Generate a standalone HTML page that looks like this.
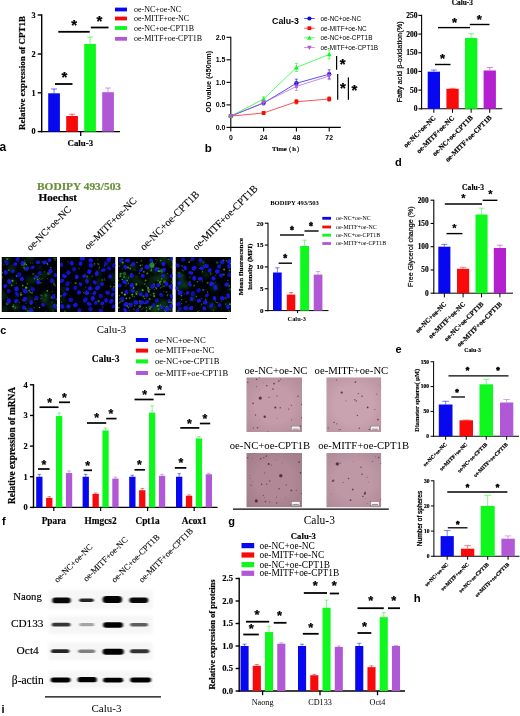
<!DOCTYPE html>
<html lang="en"><head><meta charset="utf-8"><title>Figure</title>
<style>html,body{margin:0;padding:0;background:#fff}svg{display:block}</style></head>
<body>
<svg width="520" height="716" viewBox="0 0 520 716">
<defs><filter id="b1" x="-10%" y="-10%" width="120%" height="120%"><feGaussianBlur stdDeviation="0.6"/></filter><filter id="b2" x="-20%" y="-50%" width="140%" height="200%"><feGaussianBlur stdDeviation="1.0 0.55"/></filter><filter id="b4" x="-10%" y="-10%" width="120%" height="120%"><feGaussianBlur stdDeviation="1.4"/></filter><filter id="b3" x="-10%" y="-10%" width="120%" height="120%"><feGaussianBlur stdDeviation="0.35"/></filter><radialGradient id="vg" cx="50%" cy="50%" r="75%"><stop offset="0.45" stop-color="#000" stop-opacity="0"/><stop offset="1" stop-color="#301020" stop-opacity="0.12"/></radialGradient></defs>
<rect x="0.00" y="0.00" width="520.00" height="716.00" fill="#fff"/>
<line x1="41.70" y1="14.30" x2="41.70" y2="132.30" stroke="#000" stroke-width="1.4" stroke-linecap="butt"/>
<line x1="37.70" y1="15.00" x2="41.70" y2="15.00" stroke="#000" stroke-width="1.4" stroke-linecap="butt"/>
<text x="35.70" y="17.79" font-family='"Liberation Serif", serif' font-size="8.2" font-weight="bold" text-anchor="end" fill="#000" stroke="#000" stroke-width="0.15">3</text>
<line x1="37.70" y1="54.00" x2="41.70" y2="54.00" stroke="#000" stroke-width="1.4" stroke-linecap="butt"/>
<text x="35.70" y="56.79" font-family='"Liberation Serif", serif' font-size="8.2" font-weight="bold" text-anchor="end" fill="#000" stroke="#000" stroke-width="0.15">2</text>
<line x1="37.70" y1="92.80" x2="41.70" y2="92.80" stroke="#000" stroke-width="1.4" stroke-linecap="butt"/>
<text x="35.70" y="95.59" font-family='"Liberation Serif", serif' font-size="8.2" font-weight="bold" text-anchor="end" fill="#000" stroke="#000" stroke-width="0.15">1</text>
<line x1="37.70" y1="131.60" x2="41.70" y2="131.60" stroke="#000" stroke-width="1.4" stroke-linecap="butt"/>
<text x="35.70" y="134.39" font-family='"Liberation Serif", serif' font-size="8.2" font-weight="bold" text-anchor="end" fill="#000" stroke="#000" stroke-width="0.15">0</text>
<line x1="41.00" y1="131.60" x2="120.00" y2="131.60" stroke="#000" stroke-width="1.4" stroke-linecap="butt"/>
<line x1="80.70" y1="131.60" x2="80.70" y2="135.90" stroke="#000" stroke-width="1.3" stroke-linecap="butt"/>
<rect x="48.20" y="93.30" width="11.70" height="38.30" fill="#0808f0"/>
<path d="M54.05 93.30V89.00M51.12 89.00H56.97" stroke="#0808f0" stroke-width="0.8" fill="none" opacity="0.75"/>
<rect x="66.20" y="116.00" width="11.70" height="15.60" fill="#f80a0a"/>
<path d="M72.05 116.00V114.20M69.13 114.20H74.98" stroke="#f80a0a" stroke-width="0.8" fill="none" opacity="0.75"/>
<rect x="84.20" y="44.00" width="11.70" height="87.60" fill="#0ef81e"/>
<path d="M90.05 44.00V37.00M87.13 37.00H92.98" stroke="#0ef81e" stroke-width="0.8" fill="none" opacity="0.75"/>
<rect x="102.20" y="92.20" width="11.70" height="39.40" fill="#b158d6"/>
<path d="M108.05 92.20V88.00M105.13 88.00H110.98" stroke="#b158d6" stroke-width="0.8" fill="none" opacity="0.75"/>
<line x1="55.00" y1="84.00" x2="72.50" y2="84.00" stroke="#000" stroke-width="1.8" stroke-linecap="butt"/>
<text x="64.50" y="82.39" font-family='"Liberation Sans", sans-serif' font-size="15" font-weight="bold" text-anchor="middle" fill="#000" stroke="#000" stroke-width="0.25" stroke-linejoin="round">*</text>
<line x1="58.30" y1="31.80" x2="89.70" y2="31.80" stroke="#000" stroke-width="1.8" stroke-linecap="butt"/>
<text x="74.20" y="29.89" font-family='"Liberation Sans", sans-serif' font-size="15" font-weight="bold" text-anchor="middle" fill="#000" stroke="#000" stroke-width="0.25" stroke-linejoin="round">*</text>
<line x1="90.80" y1="27.50" x2="108.50" y2="27.50" stroke="#000" stroke-width="1.8" stroke-linecap="butt"/>
<text x="99.50" y="25.69" font-family='"Liberation Sans", sans-serif' font-size="15" font-weight="bold" text-anchor="middle" fill="#000" stroke="#000" stroke-width="0.25" stroke-linejoin="round">*</text>
<text transform="translate(24.60,73.00) rotate(-90)" font-family='"Liberation Serif", serif' font-size="8.95" font-weight="bold" text-anchor="middle" fill="#000" stroke="#000" stroke-width="0.2">Relative expression of CPT1B</text>
<text x="80.30" y="146.30" font-family='"Liberation Serif", serif' font-size="8.9" font-weight="bold" text-anchor="middle" fill="#000" stroke="#000" stroke-width="0.15">Calu-3</text>
<text x="-0.50" y="151.00" font-family='"Liberation Sans", sans-serif' font-size="12" font-weight="bold" text-anchor="start" fill="#000">a</text>
<rect x="115.00" y="7.60" width="12.00" height="3.80" fill="#0808f0"/>
<text x="134.00" y="12.10" font-family='"Liberation Serif", serif' font-size="8" text-anchor="start" fill="#000">oe-NC+oe-NC</text>
<rect x="115.00" y="16.60" width="12.00" height="3.80" fill="#f80a0a"/>
<text x="134.00" y="21.10" font-family='"Liberation Serif", serif' font-size="8" text-anchor="start" fill="#000">oe-MITF+oe-NC</text>
<rect x="115.00" y="26.10" width="12.00" height="3.80" fill="#0ef81e"/>
<text x="134.00" y="30.60" font-family='"Liberation Serif", serif' font-size="8" text-anchor="start" fill="#000">oe-NC+oe-CPT1B</text>
<rect x="115.00" y="36.90" width="12.00" height="3.80" fill="#b158d6"/>
<text x="134.00" y="41.40" font-family='"Liberation Serif", serif' font-size="8" text-anchor="start" fill="#000">oe-MITF+oe-CPT1B</text>
<line x1="230.80" y1="36.75" x2="230.80" y2="127.95" stroke="#000" stroke-width="1.1" stroke-linecap="butt"/>
<line x1="226.50" y1="37.30" x2="230.80" y2="37.30" stroke="#000" stroke-width="1.1" stroke-linecap="butt"/>
<text x="225.40" y="39.68" font-family='"Liberation Sans", sans-serif' font-size="7" font-weight="bold" text-anchor="end" fill="#000">2.0</text>
<line x1="226.50" y1="59.83" x2="230.80" y2="59.83" stroke="#000" stroke-width="1.1" stroke-linecap="butt"/>
<text x="225.40" y="62.21" font-family='"Liberation Sans", sans-serif' font-size="7" font-weight="bold" text-anchor="end" fill="#000">1.5</text>
<line x1="226.50" y1="82.35" x2="230.80" y2="82.35" stroke="#000" stroke-width="1.1" stroke-linecap="butt"/>
<text x="225.40" y="84.73" font-family='"Liberation Sans", sans-serif' font-size="7" font-weight="bold" text-anchor="end" fill="#000">1.0</text>
<line x1="226.50" y1="104.88" x2="230.80" y2="104.88" stroke="#000" stroke-width="1.1" stroke-linecap="butt"/>
<text x="225.40" y="107.25" font-family='"Liberation Sans", sans-serif' font-size="7" font-weight="bold" text-anchor="end" fill="#000">0.5</text>
<line x1="226.50" y1="127.40" x2="230.80" y2="127.40" stroke="#000" stroke-width="1.1" stroke-linecap="butt"/>
<text x="225.40" y="129.78" font-family='"Liberation Sans", sans-serif' font-size="7" font-weight="bold" text-anchor="end" fill="#000">0.0</text>
<line x1="230.25" y1="127.40" x2="340.80" y2="127.40" stroke="#000" stroke-width="1.1" stroke-linecap="butt"/>
<line x1="230.80" y1="127.40" x2="230.80" y2="131.40" stroke="#000" stroke-width="1.1" stroke-linecap="butt"/>
<text x="230.80" y="140.00" font-family='"Liberation Sans", sans-serif' font-size="6.9" font-weight="bold" text-anchor="middle" fill="#000">0</text>
<line x1="263.60" y1="127.40" x2="263.60" y2="131.40" stroke="#000" stroke-width="1.1" stroke-linecap="butt"/>
<text x="263.60" y="140.00" font-family='"Liberation Sans", sans-serif' font-size="6.9" font-weight="bold" text-anchor="middle" fill="#000">24</text>
<line x1="296.40" y1="127.40" x2="296.40" y2="131.40" stroke="#000" stroke-width="1.1" stroke-linecap="butt"/>
<text x="296.40" y="140.00" font-family='"Liberation Sans", sans-serif' font-size="6.9" font-weight="bold" text-anchor="middle" fill="#000">48</text>
<line x1="329.20" y1="127.40" x2="329.20" y2="131.40" stroke="#000" stroke-width="1.1" stroke-linecap="butt"/>
<text x="329.20" y="140.00" font-family='"Liberation Sans", sans-serif' font-size="6.9" font-weight="bold" text-anchor="middle" fill="#000">72</text>
<polyline points="230.80,116.14 263.60,103.07 296.40,83.25 329.20,74.24" fill="none" stroke="#0808f0" stroke-width="0.7"/>
<line x1="230.80" y1="117.04" x2="230.80" y2="115.24" stroke="#0808f0" stroke-width="0.6" stroke-linecap="butt"/>
<line x1="229.30" y1="115.24" x2="232.30" y2="115.24" stroke="#0808f0" stroke-width="0.6" stroke-linecap="butt"/>
<line x1="229.30" y1="117.04" x2="232.30" y2="117.04" stroke="#0808f0" stroke-width="0.6" stroke-linecap="butt"/>
<circle cx="230.80" cy="116.14" r="2.15" fill="#0808f0"/>
<line x1="263.60" y1="104.88" x2="263.60" y2="101.27" stroke="#0808f0" stroke-width="0.6" stroke-linecap="butt"/>
<line x1="262.10" y1="101.27" x2="265.10" y2="101.27" stroke="#0808f0" stroke-width="0.6" stroke-linecap="butt"/>
<line x1="262.10" y1="104.88" x2="265.10" y2="104.88" stroke="#0808f0" stroke-width="0.6" stroke-linecap="butt"/>
<circle cx="263.60" cy="103.07" r="2.15" fill="#0808f0"/>
<line x1="296.40" y1="87.31" x2="296.40" y2="79.20" stroke="#0808f0" stroke-width="0.6" stroke-linecap="butt"/>
<line x1="294.90" y1="79.20" x2="297.90" y2="79.20" stroke="#0808f0" stroke-width="0.6" stroke-linecap="butt"/>
<line x1="294.90" y1="87.31" x2="297.90" y2="87.31" stroke="#0808f0" stroke-width="0.6" stroke-linecap="butt"/>
<circle cx="296.40" cy="83.25" r="2.15" fill="#0808f0"/>
<line x1="329.20" y1="78.75" x2="329.20" y2="69.74" stroke="#0808f0" stroke-width="0.6" stroke-linecap="butt"/>
<line x1="327.70" y1="69.74" x2="330.70" y2="69.74" stroke="#0808f0" stroke-width="0.6" stroke-linecap="butt"/>
<line x1="327.70" y1="78.75" x2="330.70" y2="78.75" stroke="#0808f0" stroke-width="0.6" stroke-linecap="butt"/>
<circle cx="329.20" cy="74.24" r="2.15" fill="#0808f0"/>
<polyline points="230.80,116.14 263.60,112.98 296.40,101.72 329.20,99.02" fill="none" stroke="#f80a0a" stroke-width="0.7"/>
<line x1="230.80" y1="117.04" x2="230.80" y2="115.24" stroke="#f80a0a" stroke-width="0.6" stroke-linecap="butt"/>
<line x1="229.30" y1="115.24" x2="232.30" y2="115.24" stroke="#f80a0a" stroke-width="0.6" stroke-linecap="butt"/>
<line x1="229.30" y1="117.04" x2="232.30" y2="117.04" stroke="#f80a0a" stroke-width="0.6" stroke-linecap="butt"/>
<rect x="228.87" y="114.20" width="3.87" height="3.87" fill="#f80a0a"/>
<line x1="263.60" y1="114.34" x2="263.60" y2="111.63" stroke="#f80a0a" stroke-width="0.6" stroke-linecap="butt"/>
<line x1="262.10" y1="111.63" x2="265.10" y2="111.63" stroke="#f80a0a" stroke-width="0.6" stroke-linecap="butt"/>
<line x1="262.10" y1="114.34" x2="265.10" y2="114.34" stroke="#f80a0a" stroke-width="0.6" stroke-linecap="butt"/>
<rect x="261.67" y="111.05" width="3.87" height="3.87" fill="#f80a0a"/>
<line x1="296.40" y1="103.97" x2="296.40" y2="99.47" stroke="#f80a0a" stroke-width="0.6" stroke-linecap="butt"/>
<line x1="294.90" y1="99.47" x2="297.90" y2="99.47" stroke="#f80a0a" stroke-width="0.6" stroke-linecap="butt"/>
<line x1="294.90" y1="103.97" x2="297.90" y2="103.97" stroke="#f80a0a" stroke-width="0.6" stroke-linecap="butt"/>
<rect x="294.46" y="99.79" width="3.87" height="3.87" fill="#f80a0a"/>
<line x1="329.20" y1="101.27" x2="329.20" y2="96.77" stroke="#f80a0a" stroke-width="0.6" stroke-linecap="butt"/>
<line x1="327.70" y1="96.77" x2="330.70" y2="96.77" stroke="#f80a0a" stroke-width="0.6" stroke-linecap="butt"/>
<line x1="327.70" y1="101.27" x2="330.70" y2="101.27" stroke="#f80a0a" stroke-width="0.6" stroke-linecap="butt"/>
<rect x="327.26" y="97.08" width="3.87" height="3.87" fill="#f80a0a"/>
<polyline points="230.80,116.14 263.60,99.02 296.40,67.48 329.20,54.42" fill="none" stroke="#0ef81e" stroke-width="0.7"/>
<line x1="230.80" y1="117.04" x2="230.80" y2="115.24" stroke="#0ef81e" stroke-width="0.6" stroke-linecap="butt"/>
<line x1="229.30" y1="115.24" x2="232.30" y2="115.24" stroke="#0ef81e" stroke-width="0.6" stroke-linecap="butt"/>
<line x1="229.30" y1="117.04" x2="232.30" y2="117.04" stroke="#0ef81e" stroke-width="0.6" stroke-linecap="butt"/>
<polygon points="230.80,113.77 228.44,118.07 233.17,118.07" fill="#0ef81e"/>
<line x1="263.60" y1="101.27" x2="263.60" y2="96.77" stroke="#0ef81e" stroke-width="0.6" stroke-linecap="butt"/>
<line x1="262.10" y1="96.77" x2="265.10" y2="96.77" stroke="#0ef81e" stroke-width="0.6" stroke-linecap="butt"/>
<line x1="262.10" y1="101.27" x2="265.10" y2="101.27" stroke="#0ef81e" stroke-width="0.6" stroke-linecap="butt"/>
<polygon points="263.60,96.65 261.24,100.95 265.97,100.95" fill="#0ef81e"/>
<line x1="296.40" y1="71.54" x2="296.40" y2="63.43" stroke="#0ef81e" stroke-width="0.6" stroke-linecap="butt"/>
<line x1="294.90" y1="63.43" x2="297.90" y2="63.43" stroke="#0ef81e" stroke-width="0.6" stroke-linecap="butt"/>
<line x1="294.90" y1="71.54" x2="297.90" y2="71.54" stroke="#0ef81e" stroke-width="0.6" stroke-linecap="butt"/>
<polygon points="296.40,65.12 294.03,69.42 298.76,69.42" fill="#0ef81e"/>
<line x1="329.20" y1="58.92" x2="329.20" y2="49.91" stroke="#0ef81e" stroke-width="0.6" stroke-linecap="butt"/>
<line x1="327.70" y1="49.91" x2="330.70" y2="49.91" stroke="#0ef81e" stroke-width="0.6" stroke-linecap="butt"/>
<line x1="327.70" y1="58.92" x2="330.70" y2="58.92" stroke="#0ef81e" stroke-width="0.6" stroke-linecap="butt"/>
<polygon points="329.20,52.05 326.83,56.35 331.56,56.35" fill="#0ef81e"/>
<polyline points="230.80,116.14 263.60,102.62 296.40,86.40 329.20,76.04" fill="none" stroke="#b158d6" stroke-width="0.7"/>
<line x1="230.80" y1="117.04" x2="230.80" y2="115.24" stroke="#b158d6" stroke-width="0.6" stroke-linecap="butt"/>
<line x1="229.30" y1="115.24" x2="232.30" y2="115.24" stroke="#b158d6" stroke-width="0.6" stroke-linecap="butt"/>
<line x1="229.30" y1="117.04" x2="232.30" y2="117.04" stroke="#b158d6" stroke-width="0.6" stroke-linecap="butt"/>
<polygon points="230.80,118.50 228.44,114.20 233.17,114.20" fill="#b158d6"/>
<line x1="263.60" y1="104.42" x2="263.60" y2="100.82" stroke="#b158d6" stroke-width="0.6" stroke-linecap="butt"/>
<line x1="262.10" y1="100.82" x2="265.10" y2="100.82" stroke="#b158d6" stroke-width="0.6" stroke-linecap="butt"/>
<line x1="262.10" y1="104.42" x2="265.10" y2="104.42" stroke="#b158d6" stroke-width="0.6" stroke-linecap="butt"/>
<polygon points="263.60,104.99 261.24,100.69 265.97,100.69" fill="#b158d6"/>
<line x1="296.40" y1="90.46" x2="296.40" y2="82.35" stroke="#b158d6" stroke-width="0.6" stroke-linecap="butt"/>
<line x1="294.90" y1="82.35" x2="297.90" y2="82.35" stroke="#b158d6" stroke-width="0.6" stroke-linecap="butt"/>
<line x1="294.90" y1="90.46" x2="297.90" y2="90.46" stroke="#b158d6" stroke-width="0.6" stroke-linecap="butt"/>
<polygon points="296.40,88.77 294.03,84.47 298.76,84.47" fill="#b158d6"/>
<line x1="329.20" y1="79.65" x2="329.20" y2="72.44" stroke="#b158d6" stroke-width="0.6" stroke-linecap="butt"/>
<line x1="327.70" y1="72.44" x2="330.70" y2="72.44" stroke="#b158d6" stroke-width="0.6" stroke-linecap="butt"/>
<line x1="327.70" y1="79.65" x2="330.70" y2="79.65" stroke="#b158d6" stroke-width="0.6" stroke-linecap="butt"/>
<polygon points="329.20,78.41 326.83,74.11 331.56,74.11" fill="#b158d6"/>
<line x1="336.60" y1="56.00" x2="336.60" y2="69.80" stroke="#000" stroke-width="1.2" stroke-linecap="butt"/>
<text x="342.70" y="69.09" font-family='"Liberation Sans", sans-serif' font-size="15" font-weight="bold" text-anchor="middle" fill="#000" stroke="#000" stroke-width="0.25" stroke-linejoin="round">*</text>
<line x1="337.70" y1="74.00" x2="337.70" y2="99.70" stroke="#000" stroke-width="1.2" stroke-linecap="butt"/>
<text x="343.00" y="93.39" font-family='"Liberation Sans", sans-serif' font-size="15" font-weight="bold" text-anchor="middle" fill="#000" stroke="#000" stroke-width="0.25" stroke-linejoin="round">*</text>
<line x1="348.40" y1="77.50" x2="348.40" y2="99.70" stroke="#000" stroke-width="1.2" stroke-linecap="butt"/>
<text x="354.50" y="95.49" font-family='"Liberation Sans", sans-serif' font-size="15" font-weight="bold" text-anchor="middle" fill="#000" stroke="#000" stroke-width="0.25" stroke-linejoin="round">*</text>
<text x="285.50" y="24.00" font-family='"Liberation Sans", sans-serif' font-size="8.8" font-weight="bold" text-anchor="middle" fill="#000">Calu-3</text>
<line x1="304.10" y1="18.50" x2="314.80" y2="18.50" stroke="#0808f0" stroke-width="0.7" stroke-linecap="butt"/>
<circle cx="309.40" cy="18.50" r="2.1" fill="#0808f0"/>
<text x="320.40" y="20.80" font-family='"Liberation Sans", sans-serif' font-size="6.4" text-anchor="start" fill="#000">oe-NC+oe-NC</text>
<line x1="304.10" y1="28.20" x2="314.80" y2="28.20" stroke="#f80a0a" stroke-width="0.7" stroke-linecap="butt"/>
<rect x="307.51" y="26.31" width="3.78" height="3.78" fill="#f80a0a"/>
<text x="320.40" y="30.50" font-family='"Liberation Sans", sans-serif' font-size="6.4" text-anchor="start" fill="#000">oe-MITF+oe-NC</text>
<line x1="304.10" y1="37.80" x2="314.80" y2="37.80" stroke="#0ef81e" stroke-width="0.7" stroke-linecap="butt"/>
<polygon points="309.40,35.49 307.09,39.69 311.71,39.69" fill="#0ef81e"/>
<text x="320.40" y="40.10" font-family='"Liberation Sans", sans-serif' font-size="6.4" text-anchor="start" fill="#000">oe-NC+oe-CPT1B</text>
<line x1="304.10" y1="47.60" x2="314.80" y2="47.60" stroke="#b158d6" stroke-width="0.7" stroke-linecap="butt"/>
<polygon points="309.40,49.91 307.09,45.71 311.71,45.71" fill="#b158d6"/>
<text x="320.40" y="49.90" font-family='"Liberation Sans", sans-serif' font-size="6.4" text-anchor="start" fill="#000">oe-MITF+oe-CPT1B</text>
<text transform="translate(210.90,81.70) rotate(-90)" font-family='"Liberation Sans", sans-serif' font-size="7.3" font-weight="bold" text-anchor="middle" fill="#000">OD value (450nm)</text>
<text x="272.1" y="150.6" font-family='"Liberation Serif", serif' font-size="6.7" font-weight="bold" stroke="#000" stroke-width="0.12">Time<tspan dx="2.2" font-weight="normal">(</tspan><tspan dx="1.0">h</tspan><tspan dx="0.9" font-weight="normal">)</tspan></text>
<text x="204.70" y="152.00" font-family='"Liberation Sans", sans-serif' font-size="11.5" font-weight="bold" text-anchor="start" fill="#000">b</text>
<line x1="421.60" y1="14.85" x2="421.60" y2="109.35" stroke="#000" stroke-width="1.1" stroke-linecap="butt"/>
<line x1="418.40" y1="15.40" x2="421.60" y2="15.40" stroke="#000" stroke-width="1.1" stroke-linecap="butt"/>
<text x="417.40" y="17.95" font-family='"Liberation Serif", serif' font-size="7.5" font-weight="bold" text-anchor="end" fill="#000" stroke="#000" stroke-width="0.15">250</text>
<line x1="418.40" y1="34.08" x2="421.60" y2="34.08" stroke="#000" stroke-width="1.1" stroke-linecap="butt"/>
<text x="417.40" y="36.63" font-family='"Liberation Serif", serif' font-size="7.5" font-weight="bold" text-anchor="end" fill="#000" stroke="#000" stroke-width="0.15">200</text>
<line x1="418.40" y1="52.76" x2="421.60" y2="52.76" stroke="#000" stroke-width="1.1" stroke-linecap="butt"/>
<text x="417.40" y="55.31" font-family='"Liberation Serif", serif' font-size="7.5" font-weight="bold" text-anchor="end" fill="#000" stroke="#000" stroke-width="0.15">150</text>
<line x1="418.40" y1="71.44" x2="421.60" y2="71.44" stroke="#000" stroke-width="1.1" stroke-linecap="butt"/>
<text x="417.40" y="73.99" font-family='"Liberation Serif", serif' font-size="7.5" font-weight="bold" text-anchor="end" fill="#000" stroke="#000" stroke-width="0.15">100</text>
<line x1="418.40" y1="90.12" x2="421.60" y2="90.12" stroke="#000" stroke-width="1.1" stroke-linecap="butt"/>
<text x="417.40" y="92.67" font-family='"Liberation Serif", serif' font-size="7.5" font-weight="bold" text-anchor="end" fill="#000" stroke="#000" stroke-width="0.15">50</text>
<line x1="418.40" y1="108.80" x2="421.60" y2="108.80" stroke="#000" stroke-width="1.1" stroke-linecap="butt"/>
<text x="417.40" y="111.35" font-family='"Liberation Serif", serif' font-size="7.5" font-weight="bold" text-anchor="end" fill="#000" stroke="#000" stroke-width="0.15">0</text>
<line x1="421.05" y1="108.80" x2="502.30" y2="108.80" stroke="#000" stroke-width="1.1" stroke-linecap="butt"/>
<rect x="427.70" y="71.70" width="12.30" height="37.10" fill="#0808f0"/>
<path d="M433.85 71.70V70.00M430.78 70.00H436.93" stroke="#0808f0" stroke-width="0.7" fill="none" opacity="0.75"/>
<line x1="433.85" y1="108.80" x2="433.85" y2="112.80" stroke="#000" stroke-width="1.0" stroke-linecap="butt"/>
<rect x="446.40" y="88.80" width="12.30" height="20.00" fill="#f80a0a"/>
<path d="M452.55 88.80V88.30M449.47 88.30H455.62" stroke="#f80a0a" stroke-width="0.7" fill="none" opacity="0.75"/>
<line x1="452.55" y1="108.80" x2="452.55" y2="112.80" stroke="#000" stroke-width="1.0" stroke-linecap="butt"/>
<rect x="465.00" y="38.00" width="12.30" height="70.80" fill="#0ef81e"/>
<path d="M471.15 38.00V33.80M468.07 33.80H474.22" stroke="#0ef81e" stroke-width="0.7" fill="none" opacity="0.75"/>
<line x1="471.15" y1="108.80" x2="471.15" y2="112.80" stroke="#000" stroke-width="1.0" stroke-linecap="butt"/>
<rect x="483.60" y="70.50" width="12.30" height="38.30" fill="#b41fd0"/>
<path d="M489.75 70.50V67.50M486.68 67.50H492.82" stroke="#b41fd0" stroke-width="0.7" fill="none" opacity="0.75"/>
<line x1="489.75" y1="108.80" x2="489.75" y2="112.80" stroke="#000" stroke-width="1.0" stroke-linecap="butt"/>
<line x1="435.00" y1="64.50" x2="450.50" y2="64.50" stroke="#000" stroke-width="1.4" stroke-linecap="butt"/>
<text x="442.50" y="63.39" font-family='"Liberation Sans", sans-serif' font-size="13" font-weight="bold" text-anchor="middle" fill="#000" stroke="#000" stroke-width="0.25" stroke-linejoin="round">*</text>
<line x1="438.00" y1="27.60" x2="470.00" y2="27.60" stroke="#000" stroke-width="1.4" stroke-linecap="butt"/>
<text x="454.50" y="26.89" font-family='"Liberation Sans", sans-serif' font-size="13" font-weight="bold" text-anchor="middle" fill="#000" stroke="#000" stroke-width="0.25" stroke-linejoin="round">*</text>
<line x1="469.80" y1="24.50" x2="489.50" y2="24.50" stroke="#000" stroke-width="1.4" stroke-linecap="butt"/>
<text x="479.40" y="23.89" font-family='"Liberation Sans", sans-serif' font-size="13" font-weight="bold" text-anchor="middle" fill="#000" stroke="#000" stroke-width="0.25" stroke-linejoin="round">*</text>
<text x="462.40" y="5.40" font-family='"Liberation Serif", serif' font-size="7.3" font-weight="bold" text-anchor="middle" fill="#000" stroke="#000" stroke-width="0.15">Calu-3</text>
<text transform="translate(401.80,62.00) rotate(-90)" font-family='"Liberation Sans", sans-serif' font-size="7.33" text-anchor="middle" fill="#000" stroke="#000" stroke-width="0.2">Fatty acid β-oxidation(%)</text>
<text transform="translate(436.05,118.30) rotate(-45)" font-family='"Liberation Serif", serif' font-size="7.0" font-weight="bold" text-anchor="end" fill="#000" stroke="#000" stroke-width="0.2">oe-NC+oe-NC</text>
<text transform="translate(454.75,118.30) rotate(-45)" font-family='"Liberation Serif", serif' font-size="7.0" font-weight="bold" text-anchor="end" fill="#000" stroke="#000" stroke-width="0.2">oe-MITF+oe-NC</text>
<text transform="translate(473.35,118.30) rotate(-45)" font-family='"Liberation Serif", serif' font-size="7.0" font-weight="bold" text-anchor="end" fill="#000" stroke="#000" stroke-width="0.2">oe-NC+oe-CPT1B</text>
<text transform="translate(491.95,118.30) rotate(-45)" font-family='"Liberation Serif", serif' font-size="7.0" font-weight="bold" text-anchor="end" fill="#000" stroke="#000" stroke-width="0.2">oe-MITF+oe-CPT1B</text>
<text x="395.00" y="165.50" font-family='"Liberation Sans", sans-serif' font-size="11" font-weight="bold" text-anchor="start" fill="#000">d</text>
<text x="37.00" y="189.60" font-family='"Liberation Serif", serif' font-size="11.4" font-weight="bold" text-anchor="start" fill="#6b8e3a" stroke="#6b8e3a" stroke-width="0.2">BODIPY 493/503</text>
<text x="38.50" y="201.30" font-family='"Liberation Serif", serif' font-size="11.2" font-weight="bold" text-anchor="start" fill="#000" stroke="#000" stroke-width="0.2">Hoechst</text>
<clipPath id="cp11"><rect x="1.5" y="257" width="55.5" height="55"/></clipPath><g clip-path="url(#cp11)">
<rect x="1.50" y="257.00" width="55.50" height="55.00" fill="#010208"/>
<g filter="url(#b4)"><circle cx="52.1" cy="310.3" r="2.3" fill="#1f8a2a" opacity="0.21"/><circle cx="29.6" cy="298.7" r="3.5" fill="#1f8a2a" opacity="0.21"/><circle cx="39.6" cy="267.4" r="2.2" fill="#1f8a2a" opacity="0.21"/><circle cx="7.4" cy="259.1" r="3.7" fill="#1f8a2a" opacity="0.21"/><circle cx="30.1" cy="288.3" r="2.4" fill="#1f8a2a" opacity="0.21"/><circle cx="11.7" cy="268.2" r="4.5" fill="#1f8a2a" opacity="0.21"/><circle cx="56.5" cy="308.0" r="2.3" fill="#1f8a2a" opacity="0.21"/><circle cx="4.9" cy="309.3" r="3.4" fill="#1f8a2a" opacity="0.21"/><circle cx="43.9" cy="275.0" r="3.4" fill="#1f8a2a" opacity="0.21"/><circle cx="30.1" cy="280.7" r="3.8" fill="#1f8a2a" opacity="0.21"/><circle cx="2.2" cy="295.6" r="4.5" fill="#1f8a2a" opacity="0.21"/><circle cx="11.6" cy="282.0" r="4.2" fill="#1f8a2a" opacity="0.21"/><circle cx="24.0" cy="267.7" r="2.5" fill="#1f8a2a" opacity="0.21"/><circle cx="29.9" cy="257.8" r="4.7" fill="#1f8a2a" opacity="0.21"/><circle cx="46.0" cy="295.8" r="4.6" fill="#1f8a2a" opacity="0.21"/><circle cx="36.4" cy="279.2" r="3.8" fill="#1f8a2a" opacity="0.21"/><circle cx="29.5" cy="311.0" r="4.4" fill="#1f8a2a" opacity="0.21"/><circle cx="15.8" cy="307.1" r="4.2" fill="#1f8a2a" opacity="0.21"/><circle cx="44.7" cy="301.8" r="3.2" fill="#1f8a2a" opacity="0.21"/><circle cx="51.3" cy="305.4" r="4.1" fill="#1f8a2a" opacity="0.21"/><circle cx="44.1" cy="299.1" r="3.2" fill="#1f8a2a" opacity="0.21"/></g>
<g filter="url(#b3)"><circle cx="23.7" cy="263.6" r="2.2" fill="#35c040" opacity="0.6"/><circle cx="48.7" cy="273.5" r="1.8" fill="#35c040" opacity="0.4"/><circle cx="7.1" cy="303.8" r="1.6" fill="#35c040" opacity="0.4"/><circle cx="45.9" cy="295.5" r="1.4" fill="#35c040" opacity="0.35"/><circle cx="26.6" cy="287.8" r="1.0" fill="#4cc02e" opacity="0.67"/><circle cx="11.7" cy="285.2" r="0.8" fill="#3fb52a" opacity="0.84"/><circle cx="26.3" cy="264.8" r="0.8" fill="#3fb52a" opacity="0.89"/><circle cx="34.5" cy="278.8" r="0.7" fill="#4cc02e" opacity="0.81"/><circle cx="36.1" cy="302.7" r="0.4" fill="#4cc02e" opacity="0.45"/><circle cx="34.8" cy="299.8" r="0.6" fill="#4cc02e" opacity="0.74"/><circle cx="30.3" cy="292.2" r="0.7" fill="#58b81e" opacity="0.77"/><circle cx="37.8" cy="279.4" r="0.8" fill="#3fb52a" opacity="0.91"/><circle cx="40.8" cy="274.3" r="0.6" fill="#3fb52a" opacity="0.58"/><circle cx="32.8" cy="262.9" r="0.5" fill="#3fb52a" opacity="0.58"/><circle cx="54.7" cy="303.6" r="0.4" fill="#3fb52a" opacity="0.54"/><circle cx="27.6" cy="310.9" r="0.7" fill="#4cc02e" opacity="0.47"/><circle cx="44.7" cy="271.8" r="0.5" fill="#58b81e" opacity="0.60"/><circle cx="43.6" cy="263.5" r="0.6" fill="#3fb52a" opacity="0.48"/><circle cx="27.3" cy="283.8" r="0.9" fill="#4cc02e" opacity="0.53"/><circle cx="56.2" cy="299.3" r="0.7" fill="#58b81e" opacity="0.63"/><circle cx="24.9" cy="268.7" r="0.6" fill="#2fa83a" opacity="0.93"/><circle cx="56.9" cy="258.1" r="0.5" fill="#3fb52a" opacity="0.95"/><circle cx="3.8" cy="265.0" r="0.7" fill="#2fa83a" opacity="0.43"/><circle cx="47.6" cy="278.2" r="0.5" fill="#4cc02e" opacity="0.54"/><circle cx="2.4" cy="277.3" r="0.8" fill="#58b81e" opacity="0.49"/><circle cx="47.7" cy="264.5" r="0.7" fill="#2fa83a" opacity="0.76"/><circle cx="51.9" cy="302.0" r="0.6" fill="#4cc02e" opacity="0.53"/><circle cx="39.6" cy="278.4" r="0.7" fill="#3fb52a" opacity="0.47"/><circle cx="7.3" cy="259.1" r="1.1" fill="#58b81e" opacity="0.55"/><circle cx="15.8" cy="302.3" r="0.8" fill="#4cc02e" opacity="0.58"/><circle cx="53.1" cy="310.7" r="0.5" fill="#3fb52a" opacity="0.68"/><circle cx="17.1" cy="307.5" r="0.5" fill="#2fa83a" opacity="0.44"/><circle cx="24.3" cy="270.7" r="0.4" fill="#4cc02e" opacity="0.57"/><circle cx="6.6" cy="264.6" r="0.7" fill="#4cc02e" opacity="0.60"/><circle cx="34.2" cy="307.8" r="0.7" fill="#2fa83a" opacity="0.61"/><circle cx="54.9" cy="258.2" r="0.8" fill="#2fa83a" opacity="0.68"/><circle cx="19.2" cy="312.0" r="0.5" fill="#3fb52a" opacity="0.71"/><circle cx="51.5" cy="297.5" r="0.9" fill="#2fa83a" opacity="0.84"/><circle cx="21.0" cy="294.7" r="1.0" fill="#58b81e" opacity="0.88"/><circle cx="53.9" cy="258.7" r="0.7" fill="#58b81e" opacity="0.44"/><circle cx="22.5" cy="257.7" r="0.5" fill="#3fb52a" opacity="0.47"/><circle cx="56.6" cy="305.4" r="0.9" fill="#58b81e" opacity="0.63"/><circle cx="25.9" cy="303.1" r="0.5" fill="#3fb52a" opacity="0.82"/><circle cx="18.7" cy="261.8" r="0.4" fill="#3fb52a" opacity="0.93"/><circle cx="29.1" cy="290.8" r="1.0" fill="#3fb52a" opacity="0.56"/><circle cx="21.9" cy="264.9" r="0.8" fill="#2fa83a" opacity="0.70"/><circle cx="38.1" cy="281.3" r="1.0" fill="#2fa83a" opacity="0.60"/><circle cx="12.5" cy="280.7" r="1.0" fill="#4cc02e" opacity="0.91"/><circle cx="22.8" cy="289.1" r="0.6" fill="#58b81e" opacity="0.50"/><circle cx="21.0" cy="306.3" r="0.4" fill="#2fa83a" opacity="0.46"/><circle cx="47.1" cy="263.2" r="0.7" fill="#58b81e" opacity="0.91"/><circle cx="22.7" cy="285.6" r="0.9" fill="#58b81e" opacity="0.80"/><circle cx="19.3" cy="302.6" r="0.6" fill="#2fa83a" opacity="0.74"/><circle cx="33.2" cy="274.0" r="1.0" fill="#4cc02e" opacity="0.44"/><circle cx="24.0" cy="267.4" r="0.9" fill="#4cc02e" opacity="0.57"/><circle cx="45.7" cy="311.1" r="0.5" fill="#2fa83a" opacity="0.48"/><circle cx="54.7" cy="294.6" r="0.5" fill="#4cc02e" opacity="0.68"/><circle cx="41.1" cy="298.5" r="0.8" fill="#4cc02e" opacity="0.45"/><circle cx="16.6" cy="276.0" r="0.9" fill="#4cc02e" opacity="0.70"/><circle cx="23.3" cy="300.6" r="1.0" fill="#58b81e" opacity="0.47"/><circle cx="8.7" cy="281.9" r="0.8" fill="#58b81e" opacity="0.90"/><circle cx="32.0" cy="292.9" r="0.8" fill="#2fa83a" opacity="0.86"/><circle cx="27.2" cy="292.8" r="0.5" fill="#3fb52a" opacity="0.80"/><circle cx="13.3" cy="306.5" r="1.1" fill="#2fa83a" opacity="0.94"/><circle cx="16.0" cy="296.5" r="0.4" fill="#3fb52a" opacity="0.69"/><circle cx="26.0" cy="287.3" r="0.9" fill="#3fb52a" opacity="0.68"/><circle cx="13.6" cy="304.7" r="0.7" fill="#2fa83a" opacity="0.45"/><circle cx="39.6" cy="307.4" r="0.7" fill="#58b81e" opacity="0.95"/><circle cx="54.0" cy="284.1" r="1.1" fill="#4cc02e" opacity="0.47"/><circle cx="25.9" cy="287.7" r="1.0" fill="#4cc02e" opacity="0.72"/><circle cx="30.5" cy="303.4" r="0.8" fill="#58b81e" opacity="0.59"/><circle cx="54.5" cy="304.9" r="0.8" fill="#4cc02e" opacity="0.59"/><circle cx="55.2" cy="285.8" r="0.8" fill="#3fb52a" opacity="0.53"/><circle cx="29.4" cy="290.3" r="0.4" fill="#58b81e" opacity="0.93"/><circle cx="31.7" cy="311.4" r="0.5" fill="#4cc02e" opacity="0.48"/><circle cx="5.2" cy="286.6" r="0.7" fill="#58b81e" opacity="0.93"/><circle cx="16.4" cy="283.0" r="0.5" fill="#58b81e" opacity="0.65"/><circle cx="30.6" cy="263.0" r="0.7" fill="#2fa83a" opacity="0.44"/><circle cx="8.7" cy="299.9" r="0.4" fill="#4cc02e" opacity="0.53"/><circle cx="2.2" cy="272.6" r="0.9" fill="#58b81e" opacity="0.56"/><circle cx="7.3" cy="297.2" r="0.5" fill="#2fa83a" opacity="0.69"/><circle cx="41.3" cy="295.6" r="1.0" fill="#58b81e" opacity="0.44"/><circle cx="47.3" cy="290.9" r="0.8" fill="#4cc02e" opacity="0.88"/><circle cx="30.9" cy="303.8" r="0.8" fill="#4cc02e" opacity="0.88"/><circle cx="52.3" cy="291.5" r="0.6" fill="#2fa83a" opacity="0.52"/><circle cx="50.9" cy="267.7" r="0.9" fill="#3fb52a" opacity="0.53"/><circle cx="8.9" cy="270.2" r="0.9" fill="#3fb52a" opacity="0.56"/><circle cx="25.6" cy="308.8" r="0.8" fill="#4cc02e" opacity="0.80"/><circle cx="23.9" cy="294.7" r="0.4" fill="#2fa83a" opacity="0.53"/><line x1="41.6" y1="260.9" x2="42.7" y2="263.0" stroke="#55cc33" stroke-width="0.7" opacity="0.48"/><line x1="21.2" y1="292.1" x2="20.6" y2="293.8" stroke="#55cc33" stroke-width="0.7" opacity="0.83"/><line x1="38.5" y1="275.6" x2="37.2" y2="277.9" stroke="#55cc33" stroke-width="0.7" opacity="0.68"/><line x1="23.1" y1="312.0" x2="21.8" y2="314.7" stroke="#55cc33" stroke-width="0.7" opacity="0.76"/><line x1="55.9" y1="258.3" x2="54.8" y2="261.1" stroke="#55cc33" stroke-width="0.7" opacity="0.57"/><line x1="23.8" y1="259.8" x2="25.5" y2="261.0" stroke="#55cc33" stroke-width="0.7" opacity="0.51"/><line x1="15.4" y1="306.8" x2="15.0" y2="309.2" stroke="#55cc33" stroke-width="0.7" opacity="0.84"/><line x1="33.0" y1="311.7" x2="31.7" y2="314.7" stroke="#55cc33" stroke-width="0.7" opacity="0.50"/><line x1="34.7" y1="298.8" x2="38.2" y2="299.3" stroke="#55cc33" stroke-width="0.7" opacity="0.54"/><line x1="27.7" y1="266.3" x2="27.7" y2="269.0" stroke="#55cc33" stroke-width="0.7" opacity="0.50"/><line x1="54.0" y1="280.1" x2="53.7" y2="282.8" stroke="#55cc33" stroke-width="0.7" opacity="0.61"/><line x1="17.4" y1="293.0" x2="17.0" y2="294.9" stroke="#55cc33" stroke-width="0.7" opacity="0.75"/><line x1="17.9" y1="257.8" x2="18.9" y2="258.7" stroke="#55cc33" stroke-width="0.7" opacity="0.53"/><line x1="43.4" y1="278.4" x2="40.5" y2="279.4" stroke="#55cc33" stroke-width="0.7" opacity="0.49"/><line x1="56.4" y1="308.9" x2="59.7" y2="309.7" stroke="#55cc33" stroke-width="0.7" opacity="0.64"/><line x1="28.0" y1="310.5" x2="29.8" y2="312.3" stroke="#55cc33" stroke-width="0.7" opacity="0.83"/><line x1="41.6" y1="282.8" x2="38.4" y2="283.0" stroke="#55cc33" stroke-width="0.7" opacity="0.70"/></g>
<g filter="url(#b1)"><ellipse cx="8.7" cy="291.1" rx="2.0" ry="2.1" transform="rotate(162 8.7 291.1)" fill="#1515ee" opacity="0.77"/><ellipse cx="26.9" cy="268.8" rx="2.4" ry="1.7" transform="rotate(134 26.9 268.8)" fill="#1515ee" opacity="0.91"/><ellipse cx="5.3" cy="286.0" rx="2.1" ry="1.8" transform="rotate(138 5.3 286.0)" fill="#1515ee" opacity="0.88"/><ellipse cx="9.2" cy="281.5" rx="2.5" ry="1.9" transform="rotate(61 9.2 281.5)" fill="#1515ee" opacity="0.99"/><ellipse cx="38.2" cy="282.1" rx="2.4" ry="1.9" transform="rotate(97 38.2 282.1)" fill="#1515ee" opacity="0.93"/><ellipse cx="16.5" cy="288.9" rx="2.5" ry="2.2" transform="rotate(74 16.5 288.9)" fill="#1515ee" opacity="0.96"/><ellipse cx="24.9" cy="299.2" rx="2.4" ry="2.2" transform="rotate(145 24.9 299.2)" fill="#1515ee" opacity="0.96"/><ellipse cx="30.9" cy="310.9" rx="2.6" ry="2.2" transform="rotate(115 30.9 310.9)" fill="#1515ee" opacity="0.88"/><ellipse cx="53.5" cy="296.9" rx="2.5" ry="2.1" transform="rotate(76 53.5 296.9)" fill="#1515ee" opacity="0.86"/><ellipse cx="15.3" cy="264.0" rx="2.0" ry="2.1" transform="rotate(178 15.3 264.0)" fill="#1515ee" opacity="0.84"/><ellipse cx="35.9" cy="277.0" rx="2.0" ry="1.8" transform="rotate(76 35.9 277.0)" fill="#1515ee" opacity="0.82"/><ellipse cx="17.0" cy="294.3" rx="2.7" ry="1.7" transform="rotate(56 17.0 294.3)" fill="#1515ee" opacity="0.78"/><ellipse cx="32.7" cy="289.4" rx="2.4" ry="2.1" transform="rotate(32 32.7 289.4)" fill="#1515ee" opacity="0.77"/><ellipse cx="36.4" cy="297.9" rx="2.3" ry="2.0" transform="rotate(164 36.4 297.9)" fill="#1515ee" opacity="0.76"/><ellipse cx="12.7" cy="271.2" rx="2.0" ry="1.8" transform="rotate(39 12.7 271.2)" fill="#1515ee" opacity="0.81"/><ellipse cx="54.9" cy="306.5" rx="2.5" ry="2.0" transform="rotate(40 54.9 306.5)" fill="#1515ee" opacity="0.80"/><ellipse cx="49.5" cy="260.1" rx="2.1" ry="1.8" transform="rotate(136 49.5 260.1)" fill="#1515ee" opacity="0.83"/><ellipse cx="5.8" cy="272.4" rx="2.3" ry="2.1" transform="rotate(86 5.8 272.4)" fill="#1515ee" opacity="0.82"/><ellipse cx="25.2" cy="291.0" rx="2.6" ry="2.2" transform="rotate(62 25.2 291.0)" fill="#1515ee" opacity="0.89"/><ellipse cx="6.4" cy="262.6" rx="2.7" ry="1.9" transform="rotate(40 6.4 262.6)" fill="#1515ee" opacity="0.76"/><ellipse cx="8.9" cy="300.9" rx="2.7" ry="2.1" transform="rotate(69 8.9 300.9)" fill="#1515ee" opacity="0.88"/><ellipse cx="16.3" cy="300.9" rx="2.3" ry="1.8" transform="rotate(178 16.3 300.9)" fill="#1515ee" opacity="0.91"/><ellipse cx="55.4" cy="275.2" rx="2.1" ry="1.7" transform="rotate(85 55.4 275.2)" fill="#1515ee" opacity="0.84"/><ellipse cx="51.8" cy="280.7" rx="2.5" ry="2.1" transform="rotate(109 51.8 280.7)" fill="#1515ee" opacity="0.79"/><ellipse cx="22.3" cy="263.1" rx="2.0" ry="1.8" transform="rotate(47 22.3 263.1)" fill="#1515ee" opacity="0.97"/><ellipse cx="37.9" cy="262.3" rx="2.3" ry="2.0" transform="rotate(179 37.9 262.3)" fill="#1515ee" opacity="0.82"/><ellipse cx="39.6" cy="273.0" rx="2.3" ry="1.7" transform="rotate(139 39.6 273.0)" fill="#1515ee" opacity="0.75"/><ellipse cx="18.8" cy="274.8" rx="2.6" ry="2.2" transform="rotate(148 18.8 274.8)" fill="#1515ee" opacity="0.77"/><ellipse cx="23.9" cy="307.5" rx="2.1" ry="2.1" transform="rotate(17 23.9 307.5)" fill="#1515ee" opacity="0.87"/><ellipse cx="50.4" cy="271.2" rx="2.3" ry="2.2" transform="rotate(106 50.4 271.2)" fill="#1515ee" opacity="0.96"/><ellipse cx="21.9" cy="279.0" rx="2.1" ry="2.1" transform="rotate(75 21.9 279.0)" fill="#1515ee" opacity="0.98"/><ellipse cx="31.4" cy="302.3" rx="2.0" ry="2.1" transform="rotate(38 31.4 302.3)" fill="#1515ee" opacity="0.89"/><ellipse cx="32.6" cy="267.4" rx="2.3" ry="1.7" transform="rotate(150 32.6 267.4)" fill="#1515ee" opacity="0.83"/><ellipse cx="43.1" cy="304.7" rx="2.1" ry="1.7" transform="rotate(55 43.1 304.7)" fill="#1515ee" opacity="0.87"/><ellipse cx="17.6" cy="259.2" rx="2.5" ry="1.9" transform="rotate(124 17.6 259.2)" fill="#1515ee" opacity="0.78"/><ellipse cx="44.7" cy="262.5" rx="2.2" ry="1.9" transform="rotate(174 44.7 262.5)" fill="#1515ee" opacity="0.96"/></g>
</g>
<clipPath id="cp12"><rect x="60" y="257" width="55.5" height="55"/></clipPath><g clip-path="url(#cp12)">
<rect x="60.00" y="257.00" width="55.50" height="55.00" fill="#010208"/>
<g filter="url(#b4)"><circle cx="63.1" cy="289.7" r="3.4" fill="#1f8a2a" opacity="0.17"/><circle cx="109.1" cy="262.3" r="2.7" fill="#1f8a2a" opacity="0.17"/><circle cx="113.5" cy="277.2" r="4.5" fill="#1f8a2a" opacity="0.17"/><circle cx="98.2" cy="273.3" r="3.5" fill="#1f8a2a" opacity="0.17"/><circle cx="68.1" cy="306.6" r="3.0" fill="#1f8a2a" opacity="0.17"/><circle cx="87.8" cy="278.4" r="3.5" fill="#1f8a2a" opacity="0.17"/><circle cx="99.2" cy="282.3" r="4.4" fill="#1f8a2a" opacity="0.17"/><circle cx="62.7" cy="299.5" r="3.2" fill="#1f8a2a" opacity="0.17"/></g>
<g filter="url(#b3)"><circle cx="98.8" cy="301.0" r="1.2" fill="#35c040" opacity="0.4"/><circle cx="86.3" cy="293.2" r="0.9" fill="#3fb52a" opacity="0.40"/><circle cx="115.3" cy="283.5" r="0.9" fill="#4cc02e" opacity="0.53"/><circle cx="91.0" cy="293.4" r="0.5" fill="#4cc02e" opacity="0.52"/><circle cx="78.9" cy="268.6" r="0.8" fill="#2fa83a" opacity="0.42"/><circle cx="97.8" cy="300.9" r="0.5" fill="#4cc02e" opacity="0.72"/><circle cx="65.0" cy="311.3" r="1.1" fill="#58b81e" opacity="0.38"/><circle cx="113.9" cy="286.7" r="1.0" fill="#3fb52a" opacity="0.57"/><circle cx="90.8" cy="284.9" r="0.5" fill="#58b81e" opacity="0.59"/><circle cx="86.5" cy="278.2" r="0.4" fill="#4cc02e" opacity="0.64"/><circle cx="114.2" cy="293.5" r="0.6" fill="#58b81e" opacity="0.49"/><circle cx="97.4" cy="263.3" r="0.6" fill="#4cc02e" opacity="0.49"/><circle cx="61.6" cy="302.2" r="0.7" fill="#4cc02e" opacity="0.55"/><circle cx="97.5" cy="259.4" r="0.5" fill="#4cc02e" opacity="0.59"/><circle cx="69.9" cy="295.3" r="0.4" fill="#2fa83a" opacity="0.45"/><circle cx="93.4" cy="296.9" r="0.8" fill="#2fa83a" opacity="0.49"/><circle cx="75.6" cy="283.2" r="1.1" fill="#4cc02e" opacity="0.54"/><circle cx="85.8" cy="287.2" r="0.5" fill="#4cc02e" opacity="0.65"/><circle cx="110.6" cy="257.4" r="0.6" fill="#2fa83a" opacity="0.66"/><circle cx="70.0" cy="300.7" r="0.8" fill="#3fb52a" opacity="0.44"/><circle cx="114.6" cy="311.9" r="0.8" fill="#2fa83a" opacity="0.35"/><circle cx="108.9" cy="293.8" r="0.6" fill="#58b81e" opacity="0.39"/><circle cx="87.2" cy="276.5" r="0.9" fill="#4cc02e" opacity="0.52"/><circle cx="84.9" cy="290.9" r="0.4" fill="#58b81e" opacity="0.47"/><circle cx="99.1" cy="268.8" r="0.6" fill="#3fb52a" opacity="0.44"/><circle cx="98.5" cy="264.2" r="1.0" fill="#4cc02e" opacity="0.51"/><circle cx="71.1" cy="282.9" r="0.4" fill="#2fa83a" opacity="0.57"/><circle cx="102.2" cy="280.0" r="0.8" fill="#4cc02e" opacity="0.71"/><circle cx="92.2" cy="276.1" r="0.7" fill="#4cc02e" opacity="0.64"/><circle cx="60.9" cy="296.1" r="1.0" fill="#3fb52a" opacity="0.67"/><circle cx="110.5" cy="286.4" r="1.0" fill="#3fb52a" opacity="0.49"/><circle cx="99.4" cy="267.4" r="0.6" fill="#58b81e" opacity="0.66"/><circle cx="94.5" cy="263.9" r="0.8" fill="#58b81e" opacity="0.63"/><circle cx="92.2" cy="260.9" r="0.6" fill="#2fa83a" opacity="0.37"/><circle cx="67.9" cy="262.0" r="0.6" fill="#58b81e" opacity="0.62"/><circle cx="80.3" cy="258.6" r="0.7" fill="#4cc02e" opacity="0.52"/><line x1="98.8" y1="300.6" x2="98.6" y2="302.8" stroke="#55cc33" stroke-width="0.7" opacity="0.39"/><line x1="65.9" y1="288.4" x2="67.6" y2="291.0" stroke="#55cc33" stroke-width="0.7" opacity="0.38"/><line x1="103.0" y1="306.3" x2="102.4" y2="307.8" stroke="#55cc33" stroke-width="0.7" opacity="0.52"/><line x1="104.4" y1="264.4" x2="104.5" y2="266.7" stroke="#55cc33" stroke-width="0.7" opacity="0.48"/><line x1="82.7" y1="291.5" x2="84.7" y2="294.0" stroke="#55cc33" stroke-width="0.7" opacity="0.61"/><line x1="93.7" y1="265.2" x2="94.6" y2="266.1" stroke="#55cc33" stroke-width="0.7" opacity="0.57"/><line x1="104.2" y1="277.8" x2="104.9" y2="280.6" stroke="#55cc33" stroke-width="0.7" opacity="0.48"/></g>
<g filter="url(#b1)"><ellipse cx="102.1" cy="284.1" rx="1.9" ry="2.0" transform="rotate(81 102.1 284.1)" fill="#1515ee" opacity="0.88"/><ellipse cx="111.3" cy="301.2" rx="2.7" ry="2.0" transform="rotate(138 111.3 301.2)" fill="#1515ee" opacity="0.89"/><ellipse cx="70.8" cy="299.8" rx="2.4" ry="2.1" transform="rotate(3 70.8 299.8)" fill="#1515ee" opacity="0.78"/><ellipse cx="105.7" cy="263.8" rx="2.3" ry="1.9" transform="rotate(100 105.7 263.8)" fill="#1515ee" opacity="0.77"/><ellipse cx="75.3" cy="305.0" rx="2.4" ry="2.1" transform="rotate(151 75.3 305.0)" fill="#1515ee" opacity="0.95"/><ellipse cx="107.5" cy="292.6" rx="2.3" ry="2.1" transform="rotate(12 107.5 292.6)" fill="#1515ee" opacity="0.79"/><ellipse cx="100.7" cy="295.9" rx="2.2" ry="2.2" transform="rotate(176 100.7 295.9)" fill="#1515ee" opacity="0.75"/><ellipse cx="113.4" cy="306.5" rx="2.0" ry="1.7" transform="rotate(137 113.4 306.5)" fill="#1515ee" opacity="0.84"/><ellipse cx="102.2" cy="303.5" rx="2.1" ry="1.9" transform="rotate(165 102.2 303.5)" fill="#1515ee" opacity="0.90"/><ellipse cx="90.7" cy="260.3" rx="2.3" ry="2.1" transform="rotate(17 90.7 260.3)" fill="#1515ee" opacity="0.93"/><ellipse cx="62.2" cy="306.3" rx="2.6" ry="2.1" transform="rotate(67 62.2 306.3)" fill="#1515ee" opacity="0.82"/><ellipse cx="80.5" cy="284.4" rx="2.2" ry="1.7" transform="rotate(59 80.5 284.4)" fill="#1515ee" opacity="0.81"/><ellipse cx="71.7" cy="263.2" rx="2.2" ry="2.2" transform="rotate(140 71.7 263.2)" fill="#1515ee" opacity="0.87"/><ellipse cx="61.3" cy="264.7" rx="2.2" ry="1.7" transform="rotate(72 61.3 264.7)" fill="#1515ee" opacity="0.79"/><ellipse cx="76.7" cy="276.9" rx="2.3" ry="1.9" transform="rotate(97 76.7 276.9)" fill="#1515ee" opacity="0.96"/><ellipse cx="108.8" cy="259.5" rx="2.5" ry="2.2" transform="rotate(138 108.8 259.5)" fill="#1515ee" opacity="0.85"/><ellipse cx="80.6" cy="263.5" rx="2.0" ry="2.2" transform="rotate(174 80.6 263.5)" fill="#1515ee" opacity="0.90"/><ellipse cx="106.1" cy="300.2" rx="2.0" ry="2.2" transform="rotate(152 106.1 300.2)" fill="#1515ee" opacity="0.86"/><ellipse cx="90.4" cy="309.0" rx="2.3" ry="2.2" transform="rotate(43 90.4 309.0)" fill="#1515ee" opacity="0.75"/><ellipse cx="110.1" cy="276.5" rx="2.1" ry="1.9" transform="rotate(101 110.1 276.5)" fill="#1515ee" opacity="0.94"/><ellipse cx="97.7" cy="287.9" rx="2.7" ry="2.2" transform="rotate(145 97.7 287.9)" fill="#1515ee" opacity="0.85"/><ellipse cx="95.8" cy="302.8" rx="2.0" ry="1.8" transform="rotate(69 95.8 302.8)" fill="#1515ee" opacity="0.83"/><ellipse cx="113.3" cy="289.4" rx="2.1" ry="1.7" transform="rotate(61 113.3 289.4)" fill="#1515ee" opacity="0.76"/><ellipse cx="94.7" cy="282.4" rx="2.2" ry="1.8" transform="rotate(35 94.7 282.4)" fill="#1515ee" opacity="0.85"/><ellipse cx="79.0" cy="292.4" rx="2.1" ry="2.1" transform="rotate(177 79.0 292.4)" fill="#1515ee" opacity="0.90"/><ellipse cx="113.8" cy="265.5" rx="1.9" ry="2.2" transform="rotate(52 113.8 265.5)" fill="#1515ee" opacity="0.76"/><ellipse cx="67.6" cy="283.7" rx="2.5" ry="2.0" transform="rotate(127 67.6 283.7)" fill="#1515ee" opacity="0.76"/><ellipse cx="68.3" cy="272.7" rx="2.2" ry="2.2" transform="rotate(66 68.3 272.7)" fill="#1515ee" opacity="0.79"/><ellipse cx="84.3" cy="276.0" rx="2.2" ry="1.7" transform="rotate(152 84.3 276.0)" fill="#1515ee" opacity="0.98"/><ellipse cx="92.8" cy="298.6" rx="2.3" ry="2.2" transform="rotate(33 92.8 298.6)" fill="#1515ee" opacity="0.91"/><ellipse cx="64.4" cy="276.1" rx="2.5" ry="1.9" transform="rotate(18 64.4 276.1)" fill="#1515ee" opacity="0.93"/><ellipse cx="75.3" cy="287.9" rx="2.1" ry="2.1" transform="rotate(165 75.3 287.9)" fill="#1515ee" opacity="0.76"/><ellipse cx="79.4" cy="310.5" rx="1.9" ry="2.0" transform="rotate(43 79.4 310.5)" fill="#1515ee" opacity="0.83"/><ellipse cx="67.4" cy="289.1" rx="1.9" ry="1.8" transform="rotate(98 67.4 289.1)" fill="#1515ee" opacity="0.91"/><ellipse cx="89.1" cy="303.9" rx="2.6" ry="1.8" transform="rotate(22 89.1 303.9)" fill="#1515ee" opacity="0.87"/><ellipse cx="103.4" cy="270.1" rx="2.6" ry="1.7" transform="rotate(160 103.4 270.1)" fill="#1515ee" opacity="0.87"/><ellipse cx="64.6" cy="294.5" rx="2.4" ry="1.9" transform="rotate(148 64.6 294.5)" fill="#1515ee" opacity="0.83"/><ellipse cx="86.9" cy="281.4" rx="2.3" ry="1.9" transform="rotate(77 86.9 281.4)" fill="#1515ee" opacity="0.81"/><ellipse cx="109.3" cy="268.4" rx="2.3" ry="1.7" transform="rotate(35 109.3 268.4)" fill="#1515ee" opacity="0.75"/><ellipse cx="86.9" cy="292.9" rx="2.3" ry="2.2" transform="rotate(31 86.9 292.9)" fill="#1515ee" opacity="0.99"/><ellipse cx="96.8" cy="273.5" rx="2.5" ry="1.8" transform="rotate(107 96.8 273.5)" fill="#1515ee" opacity="0.94"/><ellipse cx="74.1" cy="269.2" rx="2.1" ry="2.1" transform="rotate(149 74.1 269.2)" fill="#1515ee" opacity="0.76"/><ellipse cx="89.3" cy="271.6" rx="2.3" ry="2.1" transform="rotate(116 89.3 271.6)" fill="#1515ee" opacity="0.97"/><ellipse cx="85.3" cy="299.8" rx="2.7" ry="2.1" transform="rotate(119 85.3 299.8)" fill="#1515ee" opacity="0.79"/><ellipse cx="82.4" cy="258.4" rx="2.6" ry="2.2" transform="rotate(163 82.4 258.4)" fill="#1515ee" opacity="0.89"/><ellipse cx="112.5" cy="294.7" rx="2.2" ry="1.8" transform="rotate(79 112.5 294.7)" fill="#1515ee" opacity="0.79"/><ellipse cx="61.6" cy="280.9" rx="2.7" ry="2.0" transform="rotate(157 61.6 280.9)" fill="#1515ee" opacity="0.81"/><ellipse cx="90.9" cy="265.4" rx="2.4" ry="2.2" transform="rotate(74 90.9 265.4)" fill="#1515ee" opacity="0.82"/><ellipse cx="100.7" cy="310.7" rx="2.2" ry="2.2" transform="rotate(78 100.7 310.7)" fill="#1515ee" opacity="0.77"/><ellipse cx="94.5" cy="293.1" rx="2.4" ry="1.7" transform="rotate(119 94.5 293.1)" fill="#1515ee" opacity="0.88"/><ellipse cx="68.5" cy="306.4" rx="2.0" ry="2.0" transform="rotate(6 68.5 306.4)" fill="#1515ee" opacity="0.94"/><ellipse cx="90.2" cy="288.4" rx="2.3" ry="2.2" transform="rotate(5 90.2 288.4)" fill="#1515ee" opacity="0.96"/></g>
</g>
<clipPath id="cp13"><rect x="118" y="257" width="54.7" height="55"/></clipPath><g clip-path="url(#cp13)">
<rect x="118.00" y="257.00" width="54.70" height="55.00" fill="#010208"/>
<g filter="url(#b4)"><circle cx="125.6" cy="279.9" r="3.2" fill="#1f8a2a" opacity="0.22"/><circle cx="162.6" cy="274.3" r="2.8" fill="#1f8a2a" opacity="0.22"/><circle cx="155.9" cy="272.6" r="2.7" fill="#1f8a2a" opacity="0.22"/><circle cx="141.8" cy="283.5" r="2.7" fill="#1f8a2a" opacity="0.22"/><circle cx="121.6" cy="263.4" r="2.7" fill="#1f8a2a" opacity="0.22"/><circle cx="155.1" cy="310.3" r="3.0" fill="#1f8a2a" opacity="0.22"/><circle cx="131.6" cy="289.6" r="3.0" fill="#1f8a2a" opacity="0.22"/><circle cx="122.3" cy="275.0" r="3.2" fill="#1f8a2a" opacity="0.22"/><circle cx="155.6" cy="278.3" r="2.2" fill="#1f8a2a" opacity="0.22"/><circle cx="149.0" cy="284.9" r="2.8" fill="#1f8a2a" opacity="0.22"/><circle cx="160.8" cy="277.6" r="3.6" fill="#1f8a2a" opacity="0.22"/><circle cx="147.1" cy="307.0" r="2.2" fill="#1f8a2a" opacity="0.22"/><circle cx="153.9" cy="296.3" r="2.0" fill="#1f8a2a" opacity="0.22"/><circle cx="136.2" cy="280.0" r="4.6" fill="#1f8a2a" opacity="0.22"/><circle cx="158.8" cy="278.3" r="2.5" fill="#1f8a2a" opacity="0.22"/><circle cx="153.8" cy="309.5" r="4.2" fill="#1f8a2a" opacity="0.22"/><circle cx="139.8" cy="291.7" r="3.5" fill="#1f8a2a" opacity="0.22"/><circle cx="151.2" cy="268.3" r="4.0" fill="#1f8a2a" opacity="0.22"/><circle cx="152.6" cy="279.5" r="4.0" fill="#1f8a2a" opacity="0.22"/><circle cx="165.4" cy="279.2" r="2.2" fill="#1f8a2a" opacity="0.22"/><circle cx="132.8" cy="295.3" r="2.0" fill="#1f8a2a" opacity="0.22"/><circle cx="163.2" cy="302.3" r="3.5" fill="#1f8a2a" opacity="0.22"/><circle cx="133.0" cy="267.0" r="4.0" fill="#1f8a2a" opacity="0.22"/><circle cx="157.5" cy="304.8" r="4.3" fill="#1f8a2a" opacity="0.22"/><circle cx="163.0" cy="259.4" r="4.8" fill="#1f8a2a" opacity="0.22"/><circle cx="159.5" cy="310.2" r="4.3" fill="#1f8a2a" opacity="0.22"/><circle cx="165.3" cy="306.3" r="4.7" fill="#1f8a2a" opacity="0.22"/><circle cx="165.2" cy="277.1" r="3.4" fill="#1f8a2a" opacity="0.22"/><circle cx="127.7" cy="277.9" r="3.3" fill="#1f8a2a" opacity="0.22"/><circle cx="171.7" cy="262.4" r="4.8" fill="#1f8a2a" opacity="0.22"/><circle cx="170.9" cy="310.7" r="4.4" fill="#1f8a2a" opacity="0.22"/><circle cx="164.3" cy="257.5" r="2.3" fill="#1f8a2a" opacity="0.22"/></g>
<g filter="url(#b3)"><circle cx="151.9" cy="265.2" r="2.6" fill="#35c040" opacity="0.65"/><circle cx="161.8" cy="270.8" r="2.0" fill="#35c040" opacity="0.5"/><circle cx="164.5" cy="281.8" r="1.6" fill="#35c040" opacity="0.5"/><circle cx="124.6" cy="273.5" r="1.8" fill="#35c040" opacity="0.4"/><circle cx="139.9" cy="306.5" r="1.5" fill="#35c040" opacity="0.45"/><circle cx="148.1" cy="290.0" r="1.4" fill="#35c040" opacity="0.4"/><circle cx="132.2" cy="294.7" r="0.9" fill="#4cc02e" opacity="0.92"/><circle cx="153.7" cy="293.6" r="1.0" fill="#4cc02e" opacity="0.80"/><circle cx="125.1" cy="286.2" r="0.5" fill="#58b81e" opacity="0.61"/><circle cx="124.9" cy="294.6" r="1.1" fill="#4cc02e" opacity="1.00"/><circle cx="122.6" cy="300.7" r="1.0" fill="#58b81e" opacity="0.59"/><circle cx="158.7" cy="309.2" r="1.0" fill="#4cc02e" opacity="0.59"/><circle cx="144.6" cy="298.5" r="0.8" fill="#2fa83a" opacity="0.69"/><circle cx="166.6" cy="292.1" r="0.9" fill="#2fa83a" opacity="0.64"/><circle cx="155.8" cy="287.5" r="0.9" fill="#58b81e" opacity="0.52"/><circle cx="147.3" cy="273.1" r="0.5" fill="#2fa83a" opacity="0.65"/><circle cx="143.1" cy="290.3" r="0.7" fill="#58b81e" opacity="0.52"/><circle cx="148.1" cy="288.1" r="1.0" fill="#4cc02e" opacity="0.84"/><circle cx="122.0" cy="292.8" r="1.1" fill="#58b81e" opacity="0.66"/><circle cx="169.0" cy="259.4" r="0.5" fill="#58b81e" opacity="0.89"/><circle cx="153.0" cy="265.8" r="0.7" fill="#2fa83a" opacity="0.93"/><circle cx="129.1" cy="304.0" r="0.7" fill="#4cc02e" opacity="0.84"/><circle cx="167.3" cy="295.7" r="0.6" fill="#3fb52a" opacity="0.72"/><circle cx="149.8" cy="289.5" r="0.7" fill="#2fa83a" opacity="0.85"/><circle cx="128.0" cy="267.6" r="1.0" fill="#4cc02e" opacity="0.76"/><circle cx="127.2" cy="280.6" r="0.8" fill="#3fb52a" opacity="0.89"/><circle cx="171.1" cy="302.4" r="0.9" fill="#4cc02e" opacity="0.74"/><circle cx="172.6" cy="263.7" r="0.6" fill="#3fb52a" opacity="0.60"/><circle cx="169.3" cy="285.7" r="1.0" fill="#2fa83a" opacity="0.47"/><circle cx="136.3" cy="284.3" r="1.1" fill="#58b81e" opacity="0.73"/><circle cx="130.2" cy="268.4" r="1.0" fill="#4cc02e" opacity="0.66"/><circle cx="158.4" cy="271.2" r="0.9" fill="#2fa83a" opacity="0.92"/><circle cx="141.2" cy="270.0" r="0.9" fill="#58b81e" opacity="0.78"/><circle cx="129.2" cy="276.3" r="0.4" fill="#3fb52a" opacity="0.67"/><circle cx="121.8" cy="259.5" r="1.0" fill="#2fa83a" opacity="0.81"/><circle cx="128.4" cy="283.4" r="0.8" fill="#2fa83a" opacity="0.63"/><circle cx="146.9" cy="309.3" r="0.5" fill="#2fa83a" opacity="0.48"/><circle cx="163.0" cy="269.0" r="0.6" fill="#3fb52a" opacity="0.66"/><circle cx="137.0" cy="262.5" r="0.7" fill="#58b81e" opacity="0.77"/><circle cx="120.4" cy="286.4" r="0.5" fill="#2fa83a" opacity="0.89"/><circle cx="127.1" cy="305.8" r="0.9" fill="#4cc02e" opacity="0.95"/><circle cx="167.9" cy="294.5" r="0.5" fill="#3fb52a" opacity="0.96"/><circle cx="136.9" cy="301.1" r="0.5" fill="#4cc02e" opacity="0.85"/><circle cx="146.4" cy="307.6" r="0.7" fill="#3fb52a" opacity="0.77"/><circle cx="163.9" cy="306.4" r="0.5" fill="#2fa83a" opacity="0.53"/><circle cx="147.2" cy="273.5" r="1.1" fill="#3fb52a" opacity="0.61"/><circle cx="138.4" cy="308.2" r="0.5" fill="#2fa83a" opacity="0.46"/><circle cx="165.4" cy="312.0" r="1.0" fill="#2fa83a" opacity="0.68"/><circle cx="168.2" cy="259.2" r="0.5" fill="#58b81e" opacity="0.67"/><circle cx="143.8" cy="271.7" r="0.9" fill="#3fb52a" opacity="0.70"/><circle cx="146.8" cy="286.3" r="0.6" fill="#4cc02e" opacity="0.57"/><circle cx="170.2" cy="309.4" r="0.7" fill="#58b81e" opacity="0.54"/><circle cx="140.4" cy="265.5" r="0.8" fill="#58b81e" opacity="0.98"/><circle cx="128.6" cy="277.7" r="0.7" fill="#3fb52a" opacity="0.55"/><circle cx="144.4" cy="284.5" r="0.5" fill="#4cc02e" opacity="0.45"/><circle cx="134.8" cy="305.7" r="0.7" fill="#3fb52a" opacity="0.74"/><circle cx="129.7" cy="298.0" r="0.9" fill="#3fb52a" opacity="0.69"/><circle cx="160.5" cy="294.5" r="0.6" fill="#3fb52a" opacity="0.79"/><circle cx="158.0" cy="280.5" r="0.9" fill="#3fb52a" opacity="0.57"/><circle cx="151.3" cy="270.4" r="0.8" fill="#58b81e" opacity="0.46"/><circle cx="166.8" cy="306.9" r="0.9" fill="#58b81e" opacity="0.78"/><circle cx="130.9" cy="285.1" r="0.4" fill="#4cc02e" opacity="0.65"/><circle cx="169.0" cy="301.9" r="1.0" fill="#4cc02e" opacity="0.82"/><circle cx="154.5" cy="289.5" r="0.6" fill="#4cc02e" opacity="0.52"/><circle cx="150.6" cy="260.1" r="0.8" fill="#3fb52a" opacity="0.79"/><circle cx="160.4" cy="305.2" r="0.7" fill="#58b81e" opacity="0.90"/><circle cx="162.0" cy="285.2" r="0.4" fill="#2fa83a" opacity="0.92"/><circle cx="136.5" cy="294.0" r="1.0" fill="#58b81e" opacity="0.83"/><circle cx="149.7" cy="299.1" r="1.1" fill="#3fb52a" opacity="0.62"/><circle cx="171.9" cy="281.6" r="0.7" fill="#3fb52a" opacity="0.76"/><circle cx="122.4" cy="268.9" r="0.5" fill="#2fa83a" opacity="0.63"/><circle cx="164.0" cy="286.2" r="0.7" fill="#3fb52a" opacity="0.76"/><circle cx="129.2" cy="310.6" r="0.5" fill="#4cc02e" opacity="0.51"/><circle cx="170.3" cy="287.5" r="0.8" fill="#3fb52a" opacity="0.62"/><circle cx="126.8" cy="267.2" r="0.4" fill="#4cc02e" opacity="0.69"/><circle cx="154.1" cy="296.0" r="0.9" fill="#4cc02e" opacity="0.89"/><circle cx="124.1" cy="276.2" r="0.4" fill="#4cc02e" opacity="0.90"/><circle cx="123.0" cy="299.6" r="0.6" fill="#2fa83a" opacity="0.61"/><circle cx="133.4" cy="288.8" r="0.8" fill="#2fa83a" opacity="0.95"/><circle cx="158.7" cy="268.6" r="1.0" fill="#3fb52a" opacity="0.50"/><circle cx="164.9" cy="310.1" r="0.6" fill="#4cc02e" opacity="0.89"/><circle cx="152.2" cy="262.5" r="0.7" fill="#3fb52a" opacity="0.78"/><circle cx="156.5" cy="288.7" r="0.7" fill="#4cc02e" opacity="0.84"/><circle cx="144.2" cy="303.3" r="0.5" fill="#58b81e" opacity="0.84"/><circle cx="122.8" cy="262.6" r="1.0" fill="#58b81e" opacity="0.90"/><circle cx="118.8" cy="307.6" r="0.9" fill="#4cc02e" opacity="0.80"/><circle cx="131.3" cy="265.3" r="1.0" fill="#2fa83a" opacity="0.46"/><circle cx="136.0" cy="276.2" r="0.5" fill="#4cc02e" opacity="0.53"/><circle cx="148.8" cy="291.6" r="1.1" fill="#58b81e" opacity="0.89"/><circle cx="160.1" cy="284.1" r="0.8" fill="#58b81e" opacity="0.90"/><circle cx="161.7" cy="278.9" r="0.7" fill="#58b81e" opacity="0.95"/><circle cx="133.7" cy="287.5" r="0.7" fill="#3fb52a" opacity="0.91"/><circle cx="160.8" cy="281.2" r="0.8" fill="#58b81e" opacity="0.86"/><circle cx="158.7" cy="306.0" r="0.8" fill="#4cc02e" opacity="0.76"/><circle cx="119.5" cy="310.5" r="0.4" fill="#58b81e" opacity="0.60"/><circle cx="120.3" cy="276.2" r="0.9" fill="#4cc02e" opacity="0.70"/><circle cx="142.1" cy="268.3" r="0.9" fill="#58b81e" opacity="0.67"/><circle cx="140.0" cy="301.2" r="0.9" fill="#58b81e" opacity="0.76"/><circle cx="129.2" cy="259.0" r="0.4" fill="#58b81e" opacity="0.74"/><circle cx="140.0" cy="305.1" r="0.5" fill="#3fb52a" opacity="0.98"/><circle cx="144.9" cy="283.9" r="0.8" fill="#3fb52a" opacity="0.49"/><circle cx="121.3" cy="300.9" r="0.8" fill="#3fb52a" opacity="0.58"/><circle cx="119.5" cy="295.6" r="0.8" fill="#58b81e" opacity="0.56"/><circle cx="120.0" cy="302.6" r="0.5" fill="#58b81e" opacity="0.85"/><circle cx="146.8" cy="265.2" r="0.5" fill="#3fb52a" opacity="0.90"/><circle cx="127.7" cy="260.7" r="0.5" fill="#4cc02e" opacity="0.71"/><circle cx="154.4" cy="284.2" r="0.8" fill="#58b81e" opacity="0.59"/><circle cx="160.7" cy="260.6" r="0.8" fill="#4cc02e" opacity="0.66"/><circle cx="128.5" cy="307.3" r="0.9" fill="#4cc02e" opacity="0.66"/><circle cx="157.4" cy="305.9" r="0.9" fill="#4cc02e" opacity="1.00"/><circle cx="142.5" cy="290.0" r="0.9" fill="#4cc02e" opacity="0.94"/><circle cx="149.7" cy="308.6" r="0.9" fill="#3fb52a" opacity="0.89"/><circle cx="145.6" cy="280.6" r="1.0" fill="#58b81e" opacity="0.67"/><circle cx="131.4" cy="274.0" r="0.7" fill="#3fb52a" opacity="0.86"/><circle cx="159.8" cy="282.2" r="0.9" fill="#4cc02e" opacity="0.89"/><circle cx="132.4" cy="296.6" r="0.7" fill="#2fa83a" opacity="0.57"/><circle cx="151.1" cy="307.1" r="0.9" fill="#4cc02e" opacity="0.94"/><circle cx="141.1" cy="270.3" r="0.7" fill="#2fa83a" opacity="0.83"/><circle cx="123.5" cy="259.0" r="0.6" fill="#3fb52a" opacity="0.47"/><circle cx="124.0" cy="277.1" r="0.8" fill="#4cc02e" opacity="0.82"/><circle cx="158.8" cy="283.7" r="0.8" fill="#3fb52a" opacity="0.77"/><circle cx="143.5" cy="296.4" r="1.1" fill="#2fa83a" opacity="0.64"/><circle cx="122.3" cy="279.4" r="0.7" fill="#3fb52a" opacity="0.94"/><circle cx="150.6" cy="309.3" r="0.5" fill="#3fb52a" opacity="0.77"/><circle cx="139.2" cy="273.1" r="0.7" fill="#58b81e" opacity="0.86"/><circle cx="162.6" cy="284.3" r="0.5" fill="#2fa83a" opacity="0.74"/><circle cx="120.6" cy="273.8" r="1.1" fill="#3fb52a" opacity="0.71"/><circle cx="141.3" cy="260.9" r="0.8" fill="#3fb52a" opacity="0.57"/><circle cx="150.9" cy="294.9" r="0.6" fill="#58b81e" opacity="0.62"/><circle cx="119.1" cy="266.1" r="0.6" fill="#58b81e" opacity="0.89"/><circle cx="118.0" cy="280.3" r="0.9" fill="#2fa83a" opacity="0.68"/><circle cx="126.4" cy="298.3" r="0.9" fill="#4cc02e" opacity="0.82"/><circle cx="134.4" cy="296.8" r="0.7" fill="#2fa83a" opacity="0.46"/><circle cx="172.1" cy="260.1" r="0.6" fill="#58b81e" opacity="0.65"/><circle cx="164.0" cy="291.7" r="0.4" fill="#4cc02e" opacity="0.86"/><circle cx="159.3" cy="271.2" r="1.0" fill="#4cc02e" opacity="0.75"/><line x1="131.0" y1="311.8" x2="131.5" y2="314.8" stroke="#55cc33" stroke-width="0.7" opacity="0.57"/><line x1="156.5" y1="262.9" x2="154.5" y2="264.4" stroke="#55cc33" stroke-width="0.7" opacity="0.55"/><line x1="149.9" y1="306.4" x2="148.7" y2="307.1" stroke="#55cc33" stroke-width="0.7" opacity="0.87"/><line x1="121.5" y1="291.6" x2="122.4" y2="293.0" stroke="#55cc33" stroke-width="0.7" opacity="0.55"/><line x1="171.6" y1="261.0" x2="173.5" y2="261.2" stroke="#55cc33" stroke-width="0.7" opacity="0.76"/><line x1="127.3" y1="284.3" x2="125.8" y2="285.1" stroke="#55cc33" stroke-width="0.7" opacity="0.60"/><line x1="143.6" y1="307.4" x2="141.4" y2="309.9" stroke="#55cc33" stroke-width="0.7" opacity="0.65"/><line x1="135.6" y1="291.8" x2="138.0" y2="292.0" stroke="#55cc33" stroke-width="0.7" opacity="0.83"/><line x1="162.8" y1="286.6" x2="160.0" y2="288.3" stroke="#55cc33" stroke-width="0.7" opacity="0.64"/><line x1="151.6" y1="268.2" x2="150.9" y2="271.5" stroke="#55cc33" stroke-width="0.7" opacity="0.80"/><line x1="140.3" y1="305.9" x2="140.0" y2="307.1" stroke="#55cc33" stroke-width="0.7" opacity="0.78"/><line x1="133.2" y1="308.2" x2="134.8" y2="310.4" stroke="#55cc33" stroke-width="0.7" opacity="0.53"/><line x1="120.9" y1="297.5" x2="119.4" y2="300.0" stroke="#55cc33" stroke-width="0.7" opacity="0.53"/><line x1="142.1" y1="264.0" x2="142.1" y2="265.8" stroke="#55cc33" stroke-width="0.7" opacity="0.50"/><line x1="170.6" y1="267.0" x2="172.1" y2="267.2" stroke="#55cc33" stroke-width="0.7" opacity="0.84"/><line x1="120.1" y1="301.4" x2="118.1" y2="304.4" stroke="#55cc33" stroke-width="0.7" opacity="0.68"/><line x1="134.2" y1="269.8" x2="135.4" y2="269.9" stroke="#55cc33" stroke-width="0.7" opacity="0.61"/><line x1="152.7" y1="283.2" x2="154.0" y2="284.1" stroke="#55cc33" stroke-width="0.7" opacity="0.51"/><line x1="168.7" y1="287.0" x2="170.6" y2="287.2" stroke="#55cc33" stroke-width="0.7" opacity="0.57"/><line x1="135.5" y1="292.0" x2="136.1" y2="293.6" stroke="#55cc33" stroke-width="0.7" opacity="0.61"/><line x1="130.3" y1="274.8" x2="131.5" y2="278.0" stroke="#55cc33" stroke-width="0.7" opacity="0.55"/><line x1="147.1" y1="309.8" x2="146.0" y2="311.9" stroke="#55cc33" stroke-width="0.7" opacity="0.88"/><line x1="154.9" y1="259.5" x2="157.7" y2="260.0" stroke="#55cc33" stroke-width="0.7" opacity="0.53"/><line x1="132.6" y1="283.0" x2="132.9" y2="286.5" stroke="#55cc33" stroke-width="0.7" opacity="0.75"/><line x1="136.9" y1="283.0" x2="136.0" y2="286.0" stroke="#55cc33" stroke-width="0.7" opacity="0.55"/><line x1="166.9" y1="273.0" x2="168.1" y2="274.4" stroke="#55cc33" stroke-width="0.7" opacity="0.67"/></g>
<g filter="url(#b1)"><ellipse cx="147.1" cy="267.0" rx="2.7" ry="2.2" transform="rotate(3 147.1 267.0)" fill="#1515ee" opacity="0.88"/><ellipse cx="122.3" cy="299.0" rx="2.1" ry="2.1" transform="rotate(126 122.3 299.0)" fill="#1515ee" opacity="0.78"/><ellipse cx="131.7" cy="285.4" rx="2.1" ry="2.2" transform="rotate(141 131.7 285.4)" fill="#1515ee" opacity="0.99"/><ellipse cx="141.5" cy="302.6" rx="2.7" ry="2.0" transform="rotate(152 141.5 302.6)" fill="#1515ee" opacity="0.90"/><ellipse cx="151.3" cy="260.4" rx="2.1" ry="1.9" transform="rotate(108 151.3 260.4)" fill="#1515ee" opacity="0.84"/><ellipse cx="126.5" cy="292.1" rx="2.6" ry="1.7" transform="rotate(60 126.5 292.1)" fill="#1515ee" opacity="0.82"/><ellipse cx="161.2" cy="294.8" rx="2.0" ry="2.2" transform="rotate(109 161.2 294.8)" fill="#1515ee" opacity="0.78"/><ellipse cx="142.7" cy="275.9" rx="2.1" ry="2.0" transform="rotate(70 142.7 275.9)" fill="#1515ee" opacity="0.84"/><ellipse cx="119.5" cy="285.5" rx="2.5" ry="1.8" transform="rotate(174 119.5 285.5)" fill="#1515ee" opacity="0.87"/><ellipse cx="120.9" cy="260.8" rx="2.2" ry="1.9" transform="rotate(89 120.9 260.8)" fill="#1515ee" opacity="0.81"/><ellipse cx="140.8" cy="270.0" rx="2.1" ry="1.8" transform="rotate(146 140.8 270.0)" fill="#1515ee" opacity="0.76"/><ellipse cx="163.4" cy="263.9" rx="2.1" ry="1.9" transform="rotate(121 163.4 263.9)" fill="#1515ee" opacity="0.96"/><ellipse cx="125.6" cy="304.4" rx="2.7" ry="1.9" transform="rotate(135 125.6 304.4)" fill="#1515ee" opacity="0.99"/><ellipse cx="156.4" cy="269.3" rx="2.3" ry="1.9" transform="rotate(100 156.4 269.3)" fill="#1515ee" opacity="0.99"/><ellipse cx="158.3" cy="285.2" rx="2.0" ry="2.1" transform="rotate(150 158.3 285.2)" fill="#1515ee" opacity="0.82"/><ellipse cx="140.7" cy="294.4" rx="2.3" ry="1.7" transform="rotate(12 140.7 294.4)" fill="#1515ee" opacity="0.88"/><ellipse cx="171.7" cy="296.4" rx="2.4" ry="1.8" transform="rotate(48 171.7 296.4)" fill="#1515ee" opacity="0.98"/><ellipse cx="133.4" cy="264.0" rx="2.1" ry="2.0" transform="rotate(132 133.4 264.0)" fill="#1515ee" opacity="0.88"/><ellipse cx="163.1" cy="275.6" rx="2.0" ry="1.7" transform="rotate(139 163.1 275.6)" fill="#1515ee" opacity="0.84"/><ellipse cx="161.3" cy="307.2" rx="2.0" ry="2.0" transform="rotate(74 161.3 307.2)" fill="#1515ee" opacity="0.82"/><ellipse cx="166.5" cy="283.9" rx="2.5" ry="1.9" transform="rotate(92 166.5 283.9)" fill="#1515ee" opacity="0.85"/><ellipse cx="125.3" cy="310.4" rx="2.7" ry="1.7" transform="rotate(52 125.3 310.4)" fill="#1515ee" opacity="0.94"/><ellipse cx="146.6" cy="295.0" rx="2.4" ry="1.9" transform="rotate(102 146.6 295.0)" fill="#1515ee" opacity="0.86"/><ellipse cx="171.6" cy="286.7" rx="2.7" ry="2.2" transform="rotate(108 171.6 286.7)" fill="#1515ee" opacity="0.91"/><ellipse cx="171.5" cy="276.1" rx="2.0" ry="1.7" transform="rotate(126 171.5 276.1)" fill="#1515ee" opacity="0.99"/><ellipse cx="169.2" cy="300.9" rx="2.0" ry="1.8" transform="rotate(139 169.2 300.9)" fill="#1515ee" opacity="0.76"/><ellipse cx="132.8" cy="290.8" rx="1.9" ry="2.2" transform="rotate(81 132.8 290.8)" fill="#1515ee" opacity="0.83"/><ellipse cx="131.8" cy="275.5" rx="2.2" ry="2.2" transform="rotate(172 131.8 275.5)" fill="#1515ee" opacity="0.85"/><ellipse cx="146.8" cy="302.1" rx="2.6" ry="1.8" transform="rotate(156 146.8 302.1)" fill="#1515ee" opacity="0.85"/><ellipse cx="153.1" cy="305.6" rx="2.6" ry="1.7" transform="rotate(115 153.1 305.6)" fill="#1515ee" opacity="0.77"/><ellipse cx="125.2" cy="267.2" rx="2.4" ry="1.9" transform="rotate(71 125.2 267.2)" fill="#1515ee" opacity="0.90"/><ellipse cx="157.0" cy="300.6" rx="2.1" ry="1.9" transform="rotate(156 157.0 300.6)" fill="#1515ee" opacity="0.78"/><ellipse cx="127.5" cy="260.6" rx="2.6" ry="1.8" transform="rotate(7 127.5 260.6)" fill="#1515ee" opacity="0.88"/><ellipse cx="137.5" cy="310.7" rx="2.4" ry="1.7" transform="rotate(110 137.5 310.7)" fill="#1515ee" opacity="0.76"/><ellipse cx="164.2" cy="269.7" rx="2.0" ry="1.9" transform="rotate(120 164.2 269.7)" fill="#1515ee" opacity="0.98"/><ellipse cx="171.3" cy="258.1" rx="2.6" ry="1.9" transform="rotate(87 171.3 258.1)" fill="#1515ee" opacity="0.83"/><ellipse cx="152.8" cy="286.4" rx="2.7" ry="2.2" transform="rotate(125 152.8 286.4)" fill="#1515ee" opacity="0.86"/><ellipse cx="124.7" cy="282.0" rx="2.5" ry="2.0" transform="rotate(22 124.7 282.0)" fill="#1515ee" opacity="0.92"/><ellipse cx="167.1" cy="309.0" rx="2.6" ry="2.2" transform="rotate(178 167.1 309.0)" fill="#1515ee" opacity="0.94"/><ellipse cx="135.7" cy="302.5" rx="2.5" ry="2.2" transform="rotate(9 135.7 302.5)" fill="#1515ee" opacity="0.91"/><ellipse cx="171.4" cy="306.2" rx="2.2" ry="2.0" transform="rotate(19 171.4 306.2)" fill="#1515ee" opacity="0.97"/><ellipse cx="130.9" cy="304.9" rx="2.3" ry="2.0" transform="rotate(90 130.9 304.9)" fill="#1515ee" opacity="0.85"/></g>
</g>
<clipPath id="cp14"><rect x="175.5" y="257" width="55.5" height="55"/></clipPath><g clip-path="url(#cp14)">
<rect x="175.50" y="257.00" width="55.50" height="55.00" fill="#010208"/>
<g filter="url(#b4)"><circle cx="214.6" cy="287.0" r="4.8" fill="#1f8a2a" opacity="0.19"/><circle cx="178.8" cy="286.9" r="3.6" fill="#1f8a2a" opacity="0.19"/><circle cx="230.0" cy="289.3" r="2.6" fill="#1f8a2a" opacity="0.19"/><circle cx="180.0" cy="277.0" r="5.0" fill="#1f8a2a" opacity="0.19"/><circle cx="202.0" cy="263.5" r="4.3" fill="#1f8a2a" opacity="0.19"/><circle cx="228.3" cy="305.0" r="3.7" fill="#1f8a2a" opacity="0.19"/><circle cx="188.0" cy="309.2" r="2.4" fill="#1f8a2a" opacity="0.19"/><circle cx="206.3" cy="274.4" r="3.5" fill="#1f8a2a" opacity="0.19"/><circle cx="211.2" cy="305.8" r="4.6" fill="#1f8a2a" opacity="0.19"/><circle cx="182.3" cy="284.8" r="4.5" fill="#1f8a2a" opacity="0.19"/><circle cx="184.7" cy="283.6" r="4.2" fill="#1f8a2a" opacity="0.19"/><circle cx="181.0" cy="276.5" r="3.6" fill="#1f8a2a" opacity="0.19"/><circle cx="193.2" cy="298.3" r="3.6" fill="#1f8a2a" opacity="0.19"/><circle cx="186.8" cy="286.7" r="3.1" fill="#1f8a2a" opacity="0.19"/><circle cx="214.5" cy="308.4" r="2.5" fill="#1f8a2a" opacity="0.19"/></g>
<g filter="url(#b3)"><circle cx="203.2" cy="290.0" r="1.3" fill="#35c040" opacity="0.4"/><circle cx="217.1" cy="262.5" r="1.3" fill="#35c040" opacity="0.4"/><circle cx="225.4" cy="298.2" r="1.3" fill="#35c040" opacity="0.35"/><circle cx="181.4" cy="295.6" r="0.9" fill="#2fa83a" opacity="0.82"/><circle cx="216.3" cy="273.0" r="0.5" fill="#58b81e" opacity="0.59"/><circle cx="213.5" cy="278.8" r="0.9" fill="#4cc02e" opacity="0.44"/><circle cx="223.8" cy="274.4" r="1.0" fill="#4cc02e" opacity="0.55"/><circle cx="184.4" cy="293.6" r="0.6" fill="#3fb52a" opacity="0.39"/><circle cx="182.3" cy="275.5" r="0.5" fill="#58b81e" opacity="0.48"/><circle cx="197.9" cy="311.5" r="0.7" fill="#3fb52a" opacity="0.67"/><circle cx="207.6" cy="292.1" r="0.7" fill="#58b81e" opacity="0.79"/><circle cx="204.0" cy="267.7" r="0.7" fill="#2fa83a" opacity="0.48"/><circle cx="203.3" cy="262.6" r="1.0" fill="#2fa83a" opacity="0.42"/><circle cx="182.1" cy="265.9" r="0.7" fill="#3fb52a" opacity="0.70"/><circle cx="199.1" cy="310.6" r="0.5" fill="#2fa83a" opacity="0.56"/><circle cx="202.4" cy="281.0" r="0.8" fill="#58b81e" opacity="0.43"/><circle cx="197.4" cy="281.7" r="0.8" fill="#4cc02e" opacity="0.61"/><circle cx="202.6" cy="271.7" r="0.7" fill="#58b81e" opacity="0.77"/><circle cx="227.9" cy="280.3" r="0.6" fill="#58b81e" opacity="0.65"/><circle cx="190.1" cy="273.6" r="0.5" fill="#58b81e" opacity="0.68"/><circle cx="219.8" cy="262.2" r="0.5" fill="#3fb52a" opacity="0.47"/><circle cx="230.1" cy="289.2" r="0.6" fill="#2fa83a" opacity="0.82"/><circle cx="230.4" cy="263.3" r="1.1" fill="#3fb52a" opacity="0.74"/><circle cx="188.3" cy="305.0" r="0.6" fill="#2fa83a" opacity="0.50"/><circle cx="191.7" cy="298.9" r="0.7" fill="#4cc02e" opacity="0.64"/><circle cx="203.7" cy="303.3" r="0.7" fill="#58b81e" opacity="0.56"/><circle cx="205.8" cy="299.5" r="0.6" fill="#3fb52a" opacity="0.81"/><circle cx="189.2" cy="308.4" r="0.7" fill="#2fa83a" opacity="0.54"/><circle cx="220.3" cy="264.1" r="0.4" fill="#4cc02e" opacity="0.82"/><circle cx="189.9" cy="281.6" r="0.8" fill="#3fb52a" opacity="0.56"/><circle cx="189.8" cy="277.3" r="0.7" fill="#4cc02e" opacity="0.44"/><circle cx="180.5" cy="301.5" r="0.5" fill="#4cc02e" opacity="0.39"/><circle cx="230.0" cy="304.3" r="1.0" fill="#3fb52a" opacity="0.85"/><circle cx="207.6" cy="282.8" r="1.1" fill="#3fb52a" opacity="0.53"/><circle cx="223.4" cy="260.4" r="0.9" fill="#3fb52a" opacity="0.82"/><circle cx="226.6" cy="260.8" r="1.0" fill="#3fb52a" opacity="0.44"/><circle cx="221.5" cy="308.2" r="0.4" fill="#2fa83a" opacity="0.75"/><circle cx="178.0" cy="311.1" r="1.0" fill="#58b81e" opacity="0.45"/><circle cx="201.5" cy="304.5" r="0.9" fill="#3fb52a" opacity="0.39"/><circle cx="229.4" cy="270.6" r="0.9" fill="#3fb52a" opacity="0.68"/><circle cx="205.9" cy="300.8" r="0.9" fill="#2fa83a" opacity="0.39"/><circle cx="225.5" cy="304.0" r="0.7" fill="#2fa83a" opacity="0.59"/><circle cx="215.7" cy="275.3" r="0.6" fill="#2fa83a" opacity="0.51"/><circle cx="229.2" cy="285.8" r="1.0" fill="#3fb52a" opacity="0.59"/><circle cx="230.9" cy="275.7" r="0.7" fill="#2fa83a" opacity="0.66"/><circle cx="213.3" cy="310.2" r="0.7" fill="#3fb52a" opacity="0.48"/><circle cx="196.4" cy="296.4" r="0.6" fill="#3fb52a" opacity="0.76"/><circle cx="217.7" cy="302.5" r="0.5" fill="#3fb52a" opacity="0.78"/><circle cx="189.2" cy="262.0" r="1.0" fill="#3fb52a" opacity="0.64"/><circle cx="186.0" cy="301.7" r="0.8" fill="#58b81e" opacity="0.51"/><circle cx="201.0" cy="306.5" r="0.4" fill="#4cc02e" opacity="0.42"/><circle cx="215.4" cy="282.3" r="0.5" fill="#2fa83a" opacity="0.43"/><circle cx="201.7" cy="298.5" r="0.6" fill="#2fa83a" opacity="0.62"/><circle cx="178.3" cy="290.5" r="0.7" fill="#2fa83a" opacity="0.80"/><circle cx="201.9" cy="273.8" r="0.4" fill="#3fb52a" opacity="0.41"/><circle cx="213.4" cy="283.7" r="0.8" fill="#4cc02e" opacity="0.56"/><circle cx="182.8" cy="311.9" r="0.5" fill="#4cc02e" opacity="0.74"/><circle cx="224.1" cy="269.5" r="1.0" fill="#58b81e" opacity="0.78"/><circle cx="221.2" cy="301.7" r="0.5" fill="#2fa83a" opacity="0.50"/><circle cx="194.1" cy="285.7" r="1.1" fill="#3fb52a" opacity="0.43"/><circle cx="192.4" cy="306.4" r="0.5" fill="#4cc02e" opacity="0.48"/><circle cx="181.8" cy="303.7" r="0.6" fill="#58b81e" opacity="0.56"/><circle cx="181.7" cy="299.6" r="0.7" fill="#3fb52a" opacity="0.74"/><line x1="191.1" y1="259.7" x2="190.1" y2="260.7" stroke="#55cc33" stroke-width="0.7" opacity="0.64"/><line x1="202.2" y1="267.4" x2="199.1" y2="268.7" stroke="#55cc33" stroke-width="0.7" opacity="0.73"/><line x1="199.7" y1="299.1" x2="199.1" y2="302.1" stroke="#55cc33" stroke-width="0.7" opacity="0.57"/><line x1="215.2" y1="301.3" x2="217.5" y2="303.2" stroke="#55cc33" stroke-width="0.7" opacity="0.65"/><line x1="189.6" y1="285.1" x2="191.2" y2="285.4" stroke="#55cc33" stroke-width="0.7" opacity="0.56"/><line x1="181.8" y1="269.6" x2="184.1" y2="271.3" stroke="#55cc33" stroke-width="0.7" opacity="0.69"/><line x1="177.4" y1="272.2" x2="178.9" y2="273.6" stroke="#55cc33" stroke-width="0.7" opacity="0.47"/><line x1="178.4" y1="272.2" x2="180.6" y2="273.5" stroke="#55cc33" stroke-width="0.7" opacity="0.70"/><line x1="210.7" y1="272.0" x2="210.9" y2="275.2" stroke="#55cc33" stroke-width="0.7" opacity="0.68"/><line x1="203.0" y1="265.3" x2="205.4" y2="267.2" stroke="#55cc33" stroke-width="0.7" opacity="0.51"/><line x1="228.5" y1="310.5" x2="230.6" y2="312.0" stroke="#55cc33" stroke-width="0.7" opacity="0.65"/><line x1="226.7" y1="284.2" x2="227.4" y2="286.4" stroke="#55cc33" stroke-width="0.7" opacity="0.61"/></g>
<g filter="url(#b1)"><ellipse cx="229.4" cy="274.9" rx="2.3" ry="2.0" transform="rotate(91 229.4 274.9)" fill="#1515ee" opacity="0.76"/><ellipse cx="205.5" cy="302.3" rx="2.3" ry="2.2" transform="rotate(51 205.5 302.3)" fill="#1515ee" opacity="0.90"/><ellipse cx="180.2" cy="292.7" rx="2.5" ry="2.2" transform="rotate(119 180.2 292.7)" fill="#1515ee" opacity="0.98"/><ellipse cx="229.3" cy="261.4" rx="2.5" ry="1.9" transform="rotate(116 229.3 261.4)" fill="#1515ee" opacity="0.96"/><ellipse cx="185.1" cy="268.0" rx="2.5" ry="1.8" transform="rotate(67 185.1 268.0)" fill="#1515ee" opacity="0.97"/><ellipse cx="189.9" cy="284.2" rx="2.6" ry="1.7" transform="rotate(58 189.9 284.2)" fill="#1515ee" opacity="0.85"/><ellipse cx="214.5" cy="298.3" rx="2.4" ry="1.8" transform="rotate(78 214.5 298.3)" fill="#1515ee" opacity="0.97"/><ellipse cx="176.7" cy="288.2" rx="1.9" ry="1.9" transform="rotate(11 176.7 288.2)" fill="#1515ee" opacity="0.81"/><ellipse cx="222.1" cy="262.1" rx="2.3" ry="2.2" transform="rotate(104 222.1 262.1)" fill="#1515ee" opacity="0.82"/><ellipse cx="187.6" cy="292.9" rx="2.0" ry="1.7" transform="rotate(121 187.6 292.9)" fill="#1515ee" opacity="0.89"/><ellipse cx="204.3" cy="308.4" rx="2.2" ry="1.8" transform="rotate(53 204.3 308.4)" fill="#1515ee" opacity="0.98"/><ellipse cx="219.5" cy="305.1" rx="2.0" ry="1.9" transform="rotate(140 219.5 305.1)" fill="#1515ee" opacity="0.89"/><ellipse cx="199.0" cy="300.7" rx="2.3" ry="1.8" transform="rotate(159 199.0 300.7)" fill="#1515ee" opacity="0.89"/><ellipse cx="194.2" cy="278.3" rx="2.4" ry="2.0" transform="rotate(99 194.2 278.3)" fill="#1515ee" opacity="0.97"/><ellipse cx="206.9" cy="295.4" rx="2.0" ry="1.7" transform="rotate(142 206.9 295.4)" fill="#1515ee" opacity="0.83"/><ellipse cx="190.7" cy="272.9" rx="2.5" ry="1.7" transform="rotate(20 190.7 272.9)" fill="#1515ee" opacity="0.94"/><ellipse cx="211.2" cy="283.8" rx="2.6" ry="2.0" transform="rotate(105 211.2 283.8)" fill="#1515ee" opacity="0.97"/><ellipse cx="179.4" cy="283.0" rx="2.2" ry="2.0" transform="rotate(149 179.4 283.0)" fill="#1515ee" opacity="0.91"/><ellipse cx="177.7" cy="265.3" rx="1.9" ry="2.2" transform="rotate(120 177.7 265.3)" fill="#1515ee" opacity="0.84"/><ellipse cx="213.5" cy="278.4" rx="2.1" ry="2.2" transform="rotate(114 213.5 278.4)" fill="#1515ee" opacity="0.97"/><ellipse cx="221.2" cy="275.4" rx="2.1" ry="2.1" transform="rotate(102 221.2 275.4)" fill="#1515ee" opacity="0.84"/><ellipse cx="179.9" cy="309.2" rx="2.4" ry="1.9" transform="rotate(102 179.9 309.2)" fill="#1515ee" opacity="0.76"/><ellipse cx="215.4" cy="287.5" rx="2.7" ry="1.9" transform="rotate(72 215.4 287.5)" fill="#1515ee" opacity="0.98"/><ellipse cx="206.5" cy="265.9" rx="2.6" ry="2.1" transform="rotate(21 206.5 265.9)" fill="#1515ee" opacity="0.85"/><ellipse cx="179.3" cy="275.7" rx="2.3" ry="1.7" transform="rotate(65 179.3 275.7)" fill="#1515ee" opacity="0.94"/><ellipse cx="198.7" cy="290.4" rx="2.3" ry="2.1" transform="rotate(132 198.7 290.4)" fill="#1515ee" opacity="0.78"/><ellipse cx="228.1" cy="295.8" rx="2.7" ry="1.8" transform="rotate(75 228.1 295.8)" fill="#1515ee" opacity="0.88"/><ellipse cx="192.6" cy="259.1" rx="1.9" ry="2.2" transform="rotate(51 192.6 259.1)" fill="#1515ee" opacity="0.76"/><ellipse cx="191.1" cy="308.1" rx="2.1" ry="2.2" transform="rotate(18 191.1 308.1)" fill="#1515ee" opacity="0.94"/><ellipse cx="201.9" cy="268.3" rx="2.1" ry="2.1" transform="rotate(21 201.9 268.3)" fill="#1515ee" opacity="0.91"/><ellipse cx="209.7" cy="270.4" rx="2.1" ry="2.0" transform="rotate(134 209.7 270.4)" fill="#1515ee" opacity="0.92"/><ellipse cx="229.2" cy="266.5" rx="2.4" ry="2.2" transform="rotate(79 229.2 266.5)" fill="#1515ee" opacity="0.87"/><ellipse cx="211.2" cy="305.6" rx="2.4" ry="1.7" transform="rotate(132 211.2 305.6)" fill="#1515ee" opacity="0.84"/><ellipse cx="191.7" cy="299.1" rx="1.9" ry="2.0" transform="rotate(2 191.7 299.1)" fill="#1515ee" opacity="0.93"/><ellipse cx="219.1" cy="266.6" rx="1.9" ry="1.9" transform="rotate(32 219.1 266.6)" fill="#1515ee" opacity="0.93"/><ellipse cx="194.2" cy="268.1" rx="2.6" ry="2.2" transform="rotate(146 194.2 268.1)" fill="#1515ee" opacity="0.93"/><ellipse cx="200.4" cy="260.3" rx="2.2" ry="2.1" transform="rotate(46 200.4 260.3)" fill="#1515ee" opacity="0.79"/><ellipse cx="200.3" cy="278.7" rx="2.6" ry="1.9" transform="rotate(173 200.3 278.7)" fill="#1515ee" opacity="0.95"/><ellipse cx="227.8" cy="307.0" rx="2.6" ry="1.7" transform="rotate(86 227.8 307.0)" fill="#1515ee" opacity="0.97"/><ellipse cx="192.9" cy="293.7" rx="2.5" ry="2.0" transform="rotate(98 192.9 293.7)" fill="#1515ee" opacity="0.77"/><ellipse cx="226.6" cy="284.5" rx="2.6" ry="1.9" transform="rotate(163 226.6 284.5)" fill="#1515ee" opacity="0.84"/><ellipse cx="222.3" cy="298.4" rx="2.2" ry="2.2" transform="rotate(39 222.3 298.4)" fill="#1515ee" opacity="0.97"/><ellipse cx="185.7" cy="308.1" rx="2.3" ry="2.2" transform="rotate(157 185.7 308.1)" fill="#1515ee" opacity="0.82"/><ellipse cx="178.6" cy="304.2" rx="2.4" ry="2.2" transform="rotate(140 178.6 304.2)" fill="#1515ee" opacity="0.78"/><ellipse cx="183.2" cy="259.5" rx="2.2" ry="2.1" transform="rotate(175 183.2 259.5)" fill="#1515ee" opacity="0.77"/><ellipse cx="217.3" cy="271.4" rx="2.5" ry="2.1" transform="rotate(15 217.3 271.4)" fill="#1515ee" opacity="0.92"/></g>
</g>
<text transform="translate(30.50,251.30) rotate(-45)" font-family='"Liberation Serif", serif' font-size="9.9" text-anchor="start" fill="#000" stroke="#000" stroke-width="0.12">oe-NC+oe-NC</text>
<text transform="translate(88.20,250.30) rotate(-45)" font-family='"Liberation Serif", serif' font-size="10.05" text-anchor="start" fill="#000" stroke="#000" stroke-width="0.12">oe-MITF+oe-NC</text>
<text transform="translate(144.00,251.00) rotate(-45)" font-family='"Liberation Serif", serif' font-size="10.55" text-anchor="start" fill="#000" stroke="#000" stroke-width="0.12">oe-NC+oe-CPT1B</text>
<text transform="translate(196.50,251.00) rotate(-45)" font-family='"Liberation Serif", serif' font-size="10.3" text-anchor="start" fill="#000" stroke="#000" stroke-width="0.12">oe-MITF+oe-CPT1B</text>
<line x1="0.00" y1="318.50" x2="227.00" y2="318.50" stroke="#000" stroke-width="1.0" stroke-linecap="butt"/>
<text x="111.50" y="332.80" font-family='"Liberation Serif", serif' font-size="10.8" text-anchor="middle" fill="#000">Calu-3</text>
<text x="0.20" y="333.80" font-family='"Liberation Sans", sans-serif' font-size="10.8" font-weight="bold" text-anchor="start" fill="#000">c</text>
<line x1="268.00" y1="222.65" x2="268.00" y2="311.15" stroke="#000" stroke-width="1.1" stroke-linecap="butt"/>
<line x1="264.80" y1="223.20" x2="268.00" y2="223.20" stroke="#000" stroke-width="1.1" stroke-linecap="butt"/>
<text x="263.60" y="225.58" font-family='"Liberation Serif", serif' font-size="7" font-weight="bold" text-anchor="end" fill="#000" stroke="#000" stroke-width="0.15">20</text>
<line x1="264.80" y1="245.05" x2="268.00" y2="245.05" stroke="#000" stroke-width="1.1" stroke-linecap="butt"/>
<text x="263.60" y="247.43" font-family='"Liberation Serif", serif' font-size="7" font-weight="bold" text-anchor="end" fill="#000" stroke="#000" stroke-width="0.15">15</text>
<line x1="264.80" y1="266.90" x2="268.00" y2="266.90" stroke="#000" stroke-width="1.1" stroke-linecap="butt"/>
<text x="263.60" y="269.28" font-family='"Liberation Serif", serif' font-size="7" font-weight="bold" text-anchor="end" fill="#000" stroke="#000" stroke-width="0.15">10</text>
<line x1="264.80" y1="288.75" x2="268.00" y2="288.75" stroke="#000" stroke-width="1.1" stroke-linecap="butt"/>
<text x="263.60" y="291.13" font-family='"Liberation Serif", serif' font-size="7" font-weight="bold" text-anchor="end" fill="#000" stroke="#000" stroke-width="0.15">5</text>
<line x1="264.80" y1="310.60" x2="268.00" y2="310.60" stroke="#000" stroke-width="1.1" stroke-linecap="butt"/>
<text x="263.60" y="312.98" font-family='"Liberation Serif", serif' font-size="7" font-weight="bold" text-anchor="end" fill="#000" stroke="#000" stroke-width="0.15">0</text>
<line x1="267.50" y1="310.60" x2="328.50" y2="310.60" stroke="#000" stroke-width="1.0" stroke-linecap="butt"/>
<line x1="297.60" y1="310.60" x2="297.60" y2="313.10" stroke="#000" stroke-width="1.0" stroke-linecap="butt"/>
<rect x="273.00" y="272.50" width="8.70" height="38.10" fill="#0808f0"/>
<path d="M277.35 272.50V267.80M275.18 267.80H279.53" stroke="#0808f0" stroke-width="0.7" fill="none" opacity="0.75"/>
<rect x="286.80" y="294.60" width="8.50" height="16.00" fill="#f80a0a"/>
<path d="M291.05 294.60V292.50M288.93 292.50H293.18" stroke="#f80a0a" stroke-width="0.7" fill="none" opacity="0.75"/>
<rect x="300.20" y="246.00" width="8.80" height="64.60" fill="#0ef81e"/>
<path d="M304.60 246.00V240.20M302.40 240.20H306.80" stroke="#0ef81e" stroke-width="0.7" fill="none" opacity="0.75"/>
<rect x="313.70" y="274.60" width="8.70" height="36.00" fill="#b158d6"/>
<path d="M318.05 274.60V271.50M315.87 271.50H320.22" stroke="#b158d6" stroke-width="0.7" fill="none" opacity="0.75"/>
<line x1="278.60" y1="263.20" x2="292.00" y2="263.20" stroke="#000" stroke-width="1.4" stroke-linecap="butt"/>
<text x="285.30" y="262.45" font-family='"Liberation Sans", sans-serif' font-size="10" font-weight="bold" text-anchor="middle" fill="#000" stroke="#000" stroke-width="0.5" stroke-linejoin="round">*</text>
<line x1="280.00" y1="235.00" x2="304.00" y2="235.00" stroke="#000" stroke-width="1.4" stroke-linecap="butt"/>
<text x="291.90" y="233.85" font-family='"Liberation Sans", sans-serif' font-size="10" font-weight="bold" text-anchor="middle" fill="#000" stroke="#000" stroke-width="0.5" stroke-linejoin="round">*</text>
<line x1="304.50" y1="231.00" x2="318.60" y2="231.00" stroke="#000" stroke-width="1.4" stroke-linecap="butt"/>
<text x="311.00" y="229.85" font-family='"Liberation Sans", sans-serif' font-size="10" font-weight="bold" text-anchor="middle" fill="#000" stroke="#000" stroke-width="0.5" stroke-linejoin="round">*</text>
<text x="294.50" y="205.00" font-family='"Liberation Serif", serif' font-size="6.6" font-weight="bold" text-anchor="middle" fill="#000">BODIPY 493/503</text>
<rect x="322.30" y="216.90" width="8.70" height="2.80" fill="#0808f0"/>
<text x="336.00" y="220.20" font-family='"Liberation Serif", serif' font-size="5.9" text-anchor="start" fill="#000">oe-NC+oe-NC</text>
<rect x="322.30" y="225.60" width="8.70" height="2.80" fill="#f80a0a"/>
<text x="336.00" y="228.90" font-family='"Liberation Serif", serif' font-size="5.9" text-anchor="start" fill="#000">oe-MITF+oe-NC</text>
<rect x="322.30" y="233.80" width="8.70" height="2.80" fill="#0ef81e"/>
<text x="336.00" y="237.10" font-family='"Liberation Serif", serif' font-size="5.9" text-anchor="start" fill="#000">oe-NC+oe-CPT1B</text>
<rect x="322.30" y="242.10" width="8.70" height="2.80" fill="#b158d6"/>
<text x="336.00" y="245.40" font-family='"Liberation Serif", serif' font-size="5.9" text-anchor="start" fill="#000">oe-MITF+oe-CPT1B</text>
<text transform="translate(243.20,266.70) rotate(-90)" font-family='"Liberation Serif", serif' font-size="7.1" font-weight="bold" text-anchor="middle" fill="#000" letter-spacing="0.05" stroke="#000" stroke-width="0.2">Mean fluorescence</text>
<text transform="translate(252.10,266.70) rotate(-90)" font-family='"Liberation Serif", serif' font-size="7.1" font-weight="bold" text-anchor="middle" fill="#000" stroke="#000" stroke-width="0.2">intensity (MFI)</text>
<text x="296.80" y="321.00" font-family='"Liberation Serif", serif' font-size="6.4" font-weight="bold" text-anchor="middle" fill="#000">Calu-3</text>
<line x1="433.80" y1="199.65" x2="433.80" y2="293.75" stroke="#000" stroke-width="1.1" stroke-linecap="butt"/>
<line x1="430.60" y1="200.20" x2="433.80" y2="200.20" stroke="#000" stroke-width="1.1" stroke-linecap="butt"/>
<text x="428.60" y="202.68" font-family='"Liberation Serif", serif' font-size="7.3" font-weight="bold" text-anchor="end" fill="#000" stroke="#000" stroke-width="0.15">200</text>
<line x1="430.60" y1="223.45" x2="433.80" y2="223.45" stroke="#000" stroke-width="1.1" stroke-linecap="butt"/>
<text x="428.60" y="225.93" font-family='"Liberation Serif", serif' font-size="7.3" font-weight="bold" text-anchor="end" fill="#000" stroke="#000" stroke-width="0.15">150</text>
<line x1="430.60" y1="246.70" x2="433.80" y2="246.70" stroke="#000" stroke-width="1.1" stroke-linecap="butt"/>
<text x="428.60" y="249.18" font-family='"Liberation Serif", serif' font-size="7.3" font-weight="bold" text-anchor="end" fill="#000" stroke="#000" stroke-width="0.15">100</text>
<line x1="430.60" y1="269.95" x2="433.80" y2="269.95" stroke="#000" stroke-width="1.1" stroke-linecap="butt"/>
<text x="428.60" y="272.43" font-family='"Liberation Serif", serif' font-size="7.3" font-weight="bold" text-anchor="end" fill="#000" stroke="#000" stroke-width="0.15">50</text>
<line x1="430.60" y1="293.20" x2="433.80" y2="293.20" stroke="#000" stroke-width="1.1" stroke-linecap="butt"/>
<text x="428.60" y="295.68" font-family='"Liberation Serif", serif' font-size="7.3" font-weight="bold" text-anchor="end" fill="#000" stroke="#000" stroke-width="0.15">0</text>
<line x1="433.30" y1="293.20" x2="513.00" y2="293.20" stroke="#000" stroke-width="1.0" stroke-linecap="butt"/>
<rect x="438.30" y="246.70" width="12.10" height="46.50" fill="#0808f0"/>
<path d="M444.35 246.70V244.40M441.33 244.40H447.38" stroke="#0808f0" stroke-width="0.7" fill="none" opacity="0.75"/>
<line x1="444.35" y1="293.20" x2="444.35" y2="297.40" stroke="#000" stroke-width="1.0" stroke-linecap="butt"/>
<rect x="457.00" y="268.80" width="12.20" height="24.40" fill="#f80a0a"/>
<path d="M463.10 268.80V267.30M460.05 267.30H466.15" stroke="#f80a0a" stroke-width="0.7" fill="none" opacity="0.75"/>
<line x1="463.10" y1="293.20" x2="463.10" y2="297.40" stroke="#000" stroke-width="1.0" stroke-linecap="butt"/>
<rect x="475.50" y="214.50" width="12.10" height="78.70" fill="#0ef81e"/>
<path d="M481.55 214.50V208.20M478.52 208.20H484.58" stroke="#0ef81e" stroke-width="0.7" fill="none" opacity="0.75"/>
<line x1="481.55" y1="293.20" x2="481.55" y2="297.40" stroke="#000" stroke-width="1.0" stroke-linecap="butt"/>
<rect x="493.80" y="248.00" width="12.20" height="45.20" fill="#b41fd0"/>
<path d="M499.90 248.00V245.20M496.85 245.20H502.95" stroke="#b41fd0" stroke-width="0.7" fill="none" opacity="0.75"/>
<line x1="499.90" y1="293.20" x2="499.90" y2="297.40" stroke="#000" stroke-width="1.0" stroke-linecap="butt"/>
<line x1="446.50" y1="233.60" x2="462.40" y2="233.60" stroke="#000" stroke-width="1.4" stroke-linecap="butt"/>
<text x="454.50" y="232.02" font-family='"Liberation Sans", sans-serif' font-size="11" font-weight="bold" text-anchor="middle" fill="#000" stroke="#000" stroke-width="0.25" stroke-linejoin="round">*</text>
<line x1="444.80" y1="204.00" x2="482.00" y2="204.00" stroke="#000" stroke-width="1.4" stroke-linecap="butt"/>
<text x="463.50" y="202.42" font-family='"Liberation Sans", sans-serif' font-size="11" font-weight="bold" text-anchor="middle" fill="#000" stroke="#000" stroke-width="0.25" stroke-linejoin="round">*</text>
<line x1="482.70" y1="200.30" x2="497.40" y2="200.30" stroke="#000" stroke-width="1.4" stroke-linecap="butt"/>
<text x="490.30" y="197.82" font-family='"Liberation Sans", sans-serif' font-size="11" font-weight="bold" text-anchor="middle" fill="#000" stroke="#000" stroke-width="0.25" stroke-linejoin="round">*</text>
<text x="473.10" y="189.70" font-family='"Liberation Serif", serif' font-size="7.6" font-weight="bold" text-anchor="middle" fill="#000" stroke="#000" stroke-width="0.15">Calu-3</text>
<text transform="translate(413.20,246.70) rotate(-90)" font-family='"Liberation Sans", sans-serif' font-size="7.07" text-anchor="middle" fill="#000" stroke="#000" stroke-width="0.2">Free Glycerol change (%)</text>
<text transform="translate(446.85,304.50) rotate(-45)" font-family='"Liberation Serif", serif' font-size="6.8" font-weight="bold" text-anchor="end" fill="#000" stroke="#000" stroke-width="0.2">oe-NC+oe-NC</text>
<text transform="translate(465.60,304.50) rotate(-45)" font-family='"Liberation Serif", serif' font-size="6.8" font-weight="bold" text-anchor="end" fill="#000" stroke="#000" stroke-width="0.2">oe-MITF+oe-NC</text>
<text transform="translate(484.05,304.50) rotate(-45)" font-family='"Liberation Serif", serif' font-size="6.8" font-weight="bold" text-anchor="end" fill="#000" stroke="#000" stroke-width="0.2">oe-NC+oe-CPT1B</text>
<text transform="translate(502.40,304.50) rotate(-45)" font-family='"Liberation Serif", serif' font-size="6.8" font-weight="bold" text-anchor="end" fill="#000" stroke="#000" stroke-width="0.2">oe-MITF+oe-CPT1B</text>
<text x="395.50" y="352.50" font-family='"Liberation Sans", sans-serif' font-size="11" font-weight="bold" text-anchor="start" fill="#000">e</text>
<line x1="33.50" y1="384.10" x2="33.50" y2="508.10" stroke="#000" stroke-width="1.4" stroke-linecap="butt"/>
<line x1="29.90" y1="384.80" x2="33.50" y2="384.80" stroke="#000" stroke-width="1.4" stroke-linecap="butt"/>
<text x="27.70" y="387.66" font-family='"Liberation Serif", serif' font-size="8.4" font-weight="bold" text-anchor="end" fill="#000" stroke="#000" stroke-width="0.15">4</text>
<line x1="29.90" y1="415.45" x2="33.50" y2="415.45" stroke="#000" stroke-width="1.4" stroke-linecap="butt"/>
<text x="27.70" y="418.31" font-family='"Liberation Serif", serif' font-size="8.4" font-weight="bold" text-anchor="end" fill="#000" stroke="#000" stroke-width="0.15">3</text>
<line x1="29.90" y1="446.10" x2="33.50" y2="446.10" stroke="#000" stroke-width="1.4" stroke-linecap="butt"/>
<text x="27.70" y="448.96" font-family='"Liberation Serif", serif' font-size="8.4" font-weight="bold" text-anchor="end" fill="#000" stroke="#000" stroke-width="0.15">2</text>
<line x1="29.90" y1="476.75" x2="33.50" y2="476.75" stroke="#000" stroke-width="1.4" stroke-linecap="butt"/>
<text x="27.70" y="479.61" font-family='"Liberation Serif", serif' font-size="8.4" font-weight="bold" text-anchor="end" fill="#000" stroke="#000" stroke-width="0.15">1</text>
<line x1="29.90" y1="507.40" x2="33.50" y2="507.40" stroke="#000" stroke-width="1.4" stroke-linecap="butt"/>
<text x="27.70" y="510.26" font-family='"Liberation Serif", serif' font-size="8.4" font-weight="bold" text-anchor="end" fill="#000" stroke="#000" stroke-width="0.15">0</text>
<line x1="32.80" y1="507.40" x2="217.60" y2="507.40" stroke="#000" stroke-width="1.4" stroke-linecap="butt"/>
<rect x="36.20" y="476.75" width="6.30" height="30.65" fill="#0808f0"/>
<path d="M39.35 476.75V474.30M37.60 474.30H41.10" stroke="#0808f0" stroke-width="0.7" fill="none" opacity="0.75"/>
<rect x="46.10" y="497.90" width="6.30" height="9.50" fill="#f80a0a"/>
<path d="M49.25 497.90V496.67M47.50 496.67H51.00" stroke="#f80a0a" stroke-width="0.7" fill="none" opacity="0.75"/>
<rect x="56.00" y="416.06" width="6.30" height="91.34" fill="#0ef81e"/>
<path d="M59.15 416.06V413.00M57.40 413.00H60.90" stroke="#0ef81e" stroke-width="0.7" fill="none" opacity="0.75"/>
<rect x="65.90" y="473.07" width="6.30" height="34.33" fill="#b158d6"/>
<path d="M69.05 473.07V470.93M67.30 470.93H70.80" stroke="#b158d6" stroke-width="0.7" fill="none" opacity="0.75"/>
<line x1="53.80" y1="507.40" x2="53.80" y2="510.90" stroke="#000" stroke-width="1.2" stroke-linecap="butt"/>
<text x="53.80" y="523.50" font-family='"Liberation Serif", serif' font-size="9.3" font-weight="bold" text-anchor="middle" fill="#000" stroke="#000" stroke-width="0.15">Ppara</text>
<rect x="82.60" y="476.75" width="6.30" height="30.65" fill="#0808f0"/>
<path d="M85.75 476.75V474.30M84.00 474.30H87.50" stroke="#0808f0" stroke-width="0.7" fill="none" opacity="0.75"/>
<rect x="92.50" y="493.91" width="6.30" height="13.49" fill="#f80a0a"/>
<path d="M95.65 493.91V492.99M93.90 492.99H97.40" stroke="#f80a0a" stroke-width="0.7" fill="none" opacity="0.75"/>
<rect x="102.40" y="430.47" width="6.30" height="76.93" fill="#0ef81e"/>
<path d="M105.55 430.47V428.02M103.80 428.02H107.30" stroke="#0ef81e" stroke-width="0.7" fill="none" opacity="0.75"/>
<rect x="112.30" y="478.59" width="6.30" height="28.81" fill="#b158d6"/>
<path d="M115.45 478.59V477.06M113.70 477.06H117.20" stroke="#b158d6" stroke-width="0.7" fill="none" opacity="0.75"/>
<line x1="100.60" y1="507.40" x2="100.60" y2="510.90" stroke="#000" stroke-width="1.2" stroke-linecap="butt"/>
<text x="100.60" y="523.50" font-family='"Liberation Serif", serif' font-size="9.3" font-weight="bold" text-anchor="middle" fill="#000" stroke="#000" stroke-width="0.15">Hmgcs2</text>
<rect x="129.20" y="476.75" width="6.30" height="30.65" fill="#0808f0"/>
<path d="M132.35 476.75V475.22M130.60 475.22H134.10" stroke="#0808f0" stroke-width="0.7" fill="none" opacity="0.75"/>
<rect x="139.10" y="490.24" width="6.30" height="17.16" fill="#f80a0a"/>
<path d="M142.25 490.24V488.40M140.50 488.40H144.00" stroke="#f80a0a" stroke-width="0.7" fill="none" opacity="0.75"/>
<rect x="149.00" y="412.69" width="6.30" height="94.71" fill="#0ef81e"/>
<path d="M152.15 412.69V405.95M150.40 405.95H153.90" stroke="#0ef81e" stroke-width="0.7" fill="none" opacity="0.75"/>
<rect x="158.90" y="475.83" width="6.30" height="31.57" fill="#b158d6"/>
<path d="M162.05 475.83V474.30M160.30 474.30H163.80" stroke="#b158d6" stroke-width="0.7" fill="none" opacity="0.75"/>
<line x1="147.60" y1="507.40" x2="147.60" y2="510.90" stroke="#000" stroke-width="1.2" stroke-linecap="butt"/>
<text x="147.60" y="523.50" font-family='"Liberation Serif", serif' font-size="9.3" font-weight="bold" text-anchor="middle" fill="#000" stroke="#000" stroke-width="0.15">Cpt1a</text>
<rect x="176.00" y="476.75" width="6.30" height="30.65" fill="#0808f0"/>
<path d="M179.15 476.75V473.69M177.40 473.69H180.90" stroke="#0808f0" stroke-width="0.7" fill="none" opacity="0.75"/>
<rect x="185.90" y="495.75" width="6.30" height="11.65" fill="#f80a0a"/>
<path d="M189.05 495.75V494.83M187.30 494.83H190.80" stroke="#f80a0a" stroke-width="0.7" fill="none" opacity="0.75"/>
<rect x="195.80" y="438.44" width="6.30" height="68.96" fill="#0ef81e"/>
<path d="M198.95 438.44V436.60M197.20 436.60H200.70" stroke="#0ef81e" stroke-width="0.7" fill="none" opacity="0.75"/>
<rect x="205.70" y="474.30" width="6.30" height="33.10" fill="#b158d6"/>
<path d="M208.85 474.30V473.38M207.10 473.38H210.60" stroke="#b158d6" stroke-width="0.7" fill="none" opacity="0.75"/>
<line x1="194.20" y1="507.40" x2="194.20" y2="510.90" stroke="#000" stroke-width="1.2" stroke-linecap="butt"/>
<text x="194.20" y="523.50" font-family='"Liberation Serif", serif' font-size="9.3" font-weight="bold" text-anchor="middle" fill="#000" stroke="#000" stroke-width="0.15">Acox1</text>
<line x1="38.00" y1="469.00" x2="49.60" y2="469.00" stroke="#000" stroke-width="1.7" stroke-linecap="butt"/>
<text x="44.00" y="468.54" font-family='"Liberation Sans", sans-serif' font-size="12.3" font-weight="bold" text-anchor="middle" fill="#000" stroke="#000" stroke-width="0.25" stroke-linejoin="round">*</text>
<line x1="39.50" y1="407.20" x2="58.50" y2="407.20" stroke="#000" stroke-width="1.7" stroke-linecap="butt"/>
<text x="49.60" y="406.74" font-family='"Liberation Sans", sans-serif' font-size="12.3" font-weight="bold" text-anchor="middle" fill="#000" stroke="#000" stroke-width="0.25" stroke-linejoin="round">*</text>
<line x1="59.00" y1="402.30" x2="70.00" y2="402.30" stroke="#000" stroke-width="1.7" stroke-linecap="butt"/>
<text x="64.50" y="401.84" font-family='"Liberation Sans", sans-serif' font-size="12.3" font-weight="bold" text-anchor="middle" fill="#000" stroke="#000" stroke-width="0.25" stroke-linejoin="round">*</text>
<line x1="83.60" y1="470.30" x2="92.00" y2="470.30" stroke="#000" stroke-width="1.7" stroke-linecap="butt"/>
<text x="87.70" y="469.84" font-family='"Liberation Sans", sans-serif' font-size="12.3" font-weight="bold" text-anchor="middle" fill="#000" stroke="#000" stroke-width="0.25" stroke-linejoin="round">*</text>
<line x1="87.00" y1="423.00" x2="106.20" y2="423.00" stroke="#000" stroke-width="1.7" stroke-linecap="butt"/>
<text x="96.70" y="422.34" font-family='"Liberation Sans", sans-serif' font-size="12.3" font-weight="bold" text-anchor="middle" fill="#000" stroke="#000" stroke-width="0.25" stroke-linejoin="round">*</text>
<line x1="106.20" y1="418.60" x2="116.50" y2="418.60" stroke="#000" stroke-width="1.7" stroke-linecap="butt"/>
<text x="111.00" y="418.34" font-family='"Liberation Sans", sans-serif' font-size="12.3" font-weight="bold" text-anchor="middle" fill="#000" stroke="#000" stroke-width="0.25" stroke-linejoin="round">*</text>
<line x1="134.50" y1="469.80" x2="144.90" y2="469.80" stroke="#000" stroke-width="1.7" stroke-linecap="butt"/>
<text x="139.40" y="469.34" font-family='"Liberation Sans", sans-serif' font-size="12.3" font-weight="bold" text-anchor="middle" fill="#000" stroke="#000" stroke-width="0.25" stroke-linejoin="round">*</text>
<line x1="134.50" y1="399.50" x2="153.60" y2="399.50" stroke="#000" stroke-width="1.7" stroke-linecap="butt"/>
<text x="144.60" y="399.04" font-family='"Liberation Sans", sans-serif' font-size="12.3" font-weight="bold" text-anchor="middle" fill="#000" stroke="#000" stroke-width="0.25" stroke-linejoin="round">*</text>
<line x1="154.40" y1="394.40" x2="165.00" y2="394.40" stroke="#000" stroke-width="1.7" stroke-linecap="butt"/>
<text x="159.60" y="393.94" font-family='"Liberation Sans", sans-serif' font-size="12.3" font-weight="bold" text-anchor="middle" fill="#000" stroke="#000" stroke-width="0.25" stroke-linejoin="round">*</text>
<line x1="174.80" y1="467.90" x2="186.30" y2="467.90" stroke="#000" stroke-width="1.7" stroke-linecap="butt"/>
<text x="180.80" y="467.34" font-family='"Liberation Sans", sans-serif' font-size="12.3" font-weight="bold" text-anchor="middle" fill="#000" stroke="#000" stroke-width="0.25" stroke-linejoin="round">*</text>
<line x1="180.30" y1="427.90" x2="199.30" y2="427.90" stroke="#000" stroke-width="1.7" stroke-linecap="butt"/>
<text x="189.50" y="427.64" font-family='"Liberation Sans", sans-serif' font-size="12.3" font-weight="bold" text-anchor="middle" fill="#000" stroke="#000" stroke-width="0.25" stroke-linejoin="round">*</text>
<line x1="199.90" y1="423.50" x2="210.20" y2="423.50" stroke="#000" stroke-width="1.7" stroke-linecap="butt"/>
<text x="204.80" y="423.04" font-family='"Liberation Sans", sans-serif' font-size="12.3" font-weight="bold" text-anchor="middle" fill="#000" stroke="#000" stroke-width="0.25" stroke-linejoin="round">*</text>
<rect x="135.90" y="338.00" width="12.20" height="4.00" fill="#0808f0"/>
<text x="155.00" y="342.80" font-family='"Liberation Serif", serif' font-size="8.6" text-anchor="start" fill="#000">oe-NC+oe-NC</text>
<rect x="135.90" y="348.60" width="12.20" height="4.00" fill="#f80a0a"/>
<text x="155.00" y="353.40" font-family='"Liberation Serif", serif' font-size="8.6" text-anchor="start" fill="#000">oe-MITF+oe-NC</text>
<rect x="135.90" y="359.40" width="12.20" height="4.00" fill="#0ef81e"/>
<text x="155.00" y="364.20" font-family='"Liberation Serif", serif' font-size="8.6" text-anchor="start" fill="#000">oe-NC+oe-CPT1B</text>
<rect x="135.90" y="371.00" width="12.20" height="4.00" fill="#b158d6"/>
<text x="155.00" y="375.80" font-family='"Liberation Serif", serif' font-size="8.6" text-anchor="start" fill="#000">oe-MITF+oe-CPT1B</text>
<text x="105.70" y="362.00" font-family='"Liberation Serif", serif' font-size="9.6" font-weight="bold" text-anchor="middle" fill="#000" stroke="#000" stroke-width="0.15">Calu-3</text>
<text transform="translate(15.40,445.50) rotate(-90)" font-family='"Liberation Serif", serif' font-size="9.3" font-weight="bold" text-anchor="middle" fill="#000" stroke="#000" stroke-width="0.2">Relative expression of mRNA</text>
<text x="2.00" y="525.00" font-family='"Liberation Sans", sans-serif' font-size="11" font-weight="bold" text-anchor="start" fill="#000">f</text>
<g clip-path="url(#sp21)"><clipPath id="sp21"><rect x="246.3" y="377.3" width="55.69999999999999" height="54.69999999999999"/></clipPath>
<rect x="246.30" y="377.30" width="55.70" height="54.70" fill="#c39ba9"/>
<rect x="246.30" y="377.30" width="55.70" height="54.70" fill="url(#vg)"/>
<g filter="url(#b3)"><circle cx="255.5" cy="415.0" r="0.7" fill="#5a2a45" opacity="0.8"/><circle cx="273.0" cy="389.1" r="0.8" fill="#5a2a45" opacity="0.8"/><circle cx="291.3" cy="405.3" r="0.6" fill="#5a2a45" opacity="0.8"/><circle cx="259.4" cy="377.5" r="0.5" fill="#5a2a45" opacity="0.8"/><circle cx="278.9" cy="381.1" r="0.8" fill="#5a2a45" opacity="0.8"/><circle cx="259.2" cy="390.0" r="0.3" fill="#5a2a45" opacity="0.8"/><circle cx="301.9" cy="417.7" r="0.8" fill="#5a2a45" opacity="0.8"/><circle cx="280.6" cy="379.2" r="0.5" fill="#5a2a45" opacity="0.8"/><circle cx="274.0" cy="383.6" r="0.9" fill="#5a2a45" opacity="0.8"/><circle cx="266.8" cy="385.8" r="0.8" fill="#5a2a45" opacity="0.8"/><circle cx="253.3" cy="428.1" r="0.6" fill="#5a2a45" opacity="0.8"/><circle cx="277.0" cy="396.1" r="0.6" fill="#5a2a45" opacity="0.8"/><circle cx="256.7" cy="379.3" r="0.8" fill="#5a2a45" opacity="0.8"/><circle cx="259.4" cy="420.0" r="0.4" fill="#5a2a45" opacity="0.8"/><circle cx="300.3" cy="426.2" r="0.8" fill="#5a2a45" opacity="0.8"/><circle cx="288.8" cy="409.1" r="0.7" fill="#5a2a45" opacity="0.8"/><circle cx="253.1" cy="403.4" r="0.8" fill="#5a2a45" opacity="0.8"/><circle cx="257.5" cy="427.8" r="0.8" fill="#5a2a45" opacity="0.8"/><circle cx="269.1" cy="397.3" r="0.6" fill="#5a2a45" opacity="0.8"/><circle cx="267.8" cy="431.7" r="0.5" fill="#5a2a45" opacity="0.8"/><circle cx="247.8" cy="382.4" r="0.7" fill="#5a2a45" opacity="0.8"/><circle cx="301.6" cy="404.4" r="0.6" fill="#5a2a45" opacity="0.8"/><circle cx="277.0" cy="418.2" r="0.4" fill="#5a2a45" opacity="0.8"/><circle cx="280.2" cy="407.7" r="0.7" fill="#5a2a45" opacity="0.8"/><circle cx="256.4" cy="386.6" r="0.5" fill="#5a2a45" opacity="0.8"/><circle cx="297.9" cy="396.3" r="0.7" fill="#5a2a45" opacity="0.8"/><circle cx="263.4" cy="382.9" r="0.3" fill="#5a2a45" opacity="0.8"/><circle cx="291.6" cy="419.8" r="0.5" fill="#5a2a45" opacity="0.8"/><circle cx="260.2" cy="398.1" r="1.6" fill="#4a2038" opacity="0.85"/><circle cx="264.7" cy="416.7" r="1.2" fill="#4a2038" opacity="0.85"/><circle cx="275.3" cy="407.4" r="1.0" fill="#4a2038" opacity="0.85"/></g>
<rect x="291.30" y="426.10" width="8.70" height="4.40" fill="#f6f0f2" stroke="#4a3040" stroke-width="0.3"/>
<line x1="292.50" y1="429.20" x2="298.80" y2="429.20" stroke="#222" stroke-width="0.5" stroke-linecap="butt"/>
</g>
<g clip-path="url(#sp22)"><clipPath id="sp22"><rect x="326.3" y="377.3" width="55.0" height="54.69999999999999"/></clipPath>
<rect x="326.30" y="377.30" width="55.00" height="54.70" fill="#caa3b0"/>
<rect x="326.30" y="377.30" width="55.00" height="54.70" fill="url(#vg)"/>
<g filter="url(#b3)"><circle cx="379.0" cy="385.0" r="0.3" fill="#5a2a45" opacity="0.8"/><circle cx="381.2" cy="387.4" r="0.4" fill="#5a2a45" opacity="0.8"/><circle cx="362.1" cy="396.2" r="0.8" fill="#5a2a45" opacity="0.8"/><circle cx="339.0" cy="429.8" r="0.5" fill="#5a2a45" opacity="0.8"/><circle cx="359.4" cy="428.3" r="0.7" fill="#5a2a45" opacity="0.8"/><circle cx="377.1" cy="416.0" r="0.3" fill="#5a2a45" opacity="0.8"/><circle cx="374.8" cy="409.5" r="0.5" fill="#5a2a45" opacity="0.8"/><circle cx="336.8" cy="423.8" r="0.6" fill="#5a2a45" opacity="0.8"/><circle cx="377.9" cy="419.6" r="0.9" fill="#5a2a45" opacity="0.8"/><circle cx="357.4" cy="415.5" r="0.7" fill="#5a2a45" opacity="0.8"/><circle cx="340.5" cy="429.6" r="0.5" fill="#5a2a45" opacity="0.8"/><circle cx="369.3" cy="429.5" r="0.7" fill="#5a2a45" opacity="0.8"/><circle cx="334.1" cy="422.4" r="0.7" fill="#5a2a45" opacity="0.8"/><circle cx="336.5" cy="380.0" r="0.6" fill="#5a2a45" opacity="0.8"/><circle cx="328.1" cy="427.9" r="0.6" fill="#5a2a45" opacity="0.8"/><circle cx="354.8" cy="399.7" r="0.7" fill="#5a2a45" opacity="0.8"/><circle cx="376.7" cy="394.1" r="0.5" fill="#5a2a45" opacity="0.8"/><circle cx="358.3" cy="393.6" r="0.7" fill="#5a2a45" opacity="0.8"/><circle cx="356.2" cy="401.0" r="0.7" fill="#5a2a45" opacity="0.8"/><circle cx="355.4" cy="382.1" r="0.9" fill="#5a2a45" opacity="0.8"/><circle cx="345.9" cy="400.9" r="0.5" fill="#5a2a45" opacity="0.8"/><circle cx="377.4" cy="429.4" r="0.6" fill="#5a2a45" opacity="0.8"/><circle cx="341.7" cy="392.6" r="1.1" fill="#4a2038" opacity="0.85"/><circle cx="367.6" cy="407.4" r="0.9" fill="#4a2038" opacity="0.85"/></g>
<rect x="370.60" y="426.10" width="8.70" height="4.40" fill="#f6f0f2" stroke="#4a3040" stroke-width="0.3"/>
<line x1="371.80" y1="429.20" x2="378.10" y2="429.20" stroke="#222" stroke-width="0.5" stroke-linecap="butt"/>
</g>
<g clip-path="url(#sp23)"><clipPath id="sp23"><rect x="246.3" y="453" width="55.69999999999999" height="54.39999999999998"/></clipPath>
<rect x="246.30" y="453.00" width="55.70" height="54.40" fill="#b08896"/>
<rect x="246.30" y="453.00" width="55.70" height="54.40" fill="url(#vg)"/>
<g filter="url(#b3)"><circle cx="297.8" cy="504.6" r="0.8" fill="#5a2a45" opacity="0.8"/><circle cx="251.0" cy="485.2" r="0.6" fill="#5a2a45" opacity="0.8"/><circle cx="275.8" cy="460.1" r="0.4" fill="#5a2a45" opacity="0.8"/><circle cx="271.1" cy="465.0" r="0.6" fill="#5a2a45" opacity="0.8"/><circle cx="247.7" cy="457.7" r="0.7" fill="#5a2a45" opacity="0.8"/><circle cx="269.8" cy="480.9" r="0.7" fill="#5a2a45" opacity="0.8"/><circle cx="266.3" cy="456.1" r="0.8" fill="#5a2a45" opacity="0.8"/><circle cx="279.1" cy="488.8" r="0.7" fill="#5a2a45" opacity="0.8"/><circle cx="300.4" cy="472.7" r="0.8" fill="#5a2a45" opacity="0.8"/><circle cx="266.8" cy="484.1" r="0.7" fill="#5a2a45" opacity="0.8"/><circle cx="263.8" cy="457.7" r="0.6" fill="#5a2a45" opacity="0.8"/><circle cx="286.3" cy="485.1" r="0.6" fill="#5a2a45" opacity="0.8"/><circle cx="282.1" cy="462.9" r="0.4" fill="#5a2a45" opacity="0.8"/><circle cx="264.3" cy="497.4" r="0.4" fill="#5a2a45" opacity="0.8"/><circle cx="252.7" cy="458.4" r="0.3" fill="#5a2a45" opacity="0.8"/><circle cx="261.6" cy="484.2" r="0.8" fill="#5a2a45" opacity="0.8"/><circle cx="264.7" cy="473.1" r="0.5" fill="#5a2a45" opacity="0.8"/><circle cx="263.3" cy="495.3" r="0.6" fill="#5a2a45" opacity="0.8"/><circle cx="260.7" cy="458.8" r="0.8" fill="#5a2a45" opacity="0.8"/><circle cx="285.7" cy="498.1" r="0.4" fill="#5a2a45" opacity="0.8"/><circle cx="276.7" cy="503.0" r="0.7" fill="#5a2a45" opacity="0.8"/><circle cx="299.0" cy="462.1" r="0.9" fill="#5a2a45" opacity="0.8"/><circle cx="249.4" cy="475.6" r="0.3" fill="#5a2a45" opacity="0.8"/><circle cx="291.4" cy="490.4" r="0.9" fill="#5a2a45" opacity="0.8"/><circle cx="291.1" cy="504.6" r="0.6" fill="#5a2a45" opacity="0.8"/><circle cx="301.3" cy="493.7" r="0.5" fill="#5a2a45" opacity="0.8"/><circle cx="300.6" cy="473.5" r="0.4" fill="#5a2a45" opacity="0.8"/><circle cx="250.5" cy="478.3" r="0.4" fill="#5a2a45" opacity="0.8"/><circle cx="298.3" cy="504.7" r="0.4" fill="#5a2a45" opacity="0.8"/><circle cx="252.1" cy="481.8" r="0.4" fill="#5a2a45" opacity="0.8"/><circle cx="276.6" cy="497.2" r="0.5" fill="#5a2a45" opacity="0.8"/><circle cx="269.8" cy="502.0" r="0.6" fill="#5a2a45" opacity="0.8"/><circle cx="265.4" cy="501.5" r="0.8" fill="#5a2a45" opacity="0.8"/><circle cx="296.2" cy="490.4" r="0.5" fill="#5a2a45" opacity="0.8"/><circle cx="280.8" cy="475.8" r="1.7" fill="#4a2038" opacity="0.85"/><circle cx="256.3" cy="500.9" r="1.6" fill="#4a2038" opacity="0.85"/><circle cx="268.6" cy="463.9" r="1.0" fill="#4a2038" opacity="0.85"/></g>
<rect x="291.30" y="501.50" width="8.70" height="4.40" fill="#f6f0f2" stroke="#4a3040" stroke-width="0.3"/>
<line x1="292.50" y1="504.60" x2="298.80" y2="504.60" stroke="#222" stroke-width="0.5" stroke-linecap="butt"/>
</g>
<g clip-path="url(#sp24)"><clipPath id="sp24"><rect x="326.3" y="453" width="55.0" height="54.39999999999998"/></clipPath>
<rect x="326.30" y="453.00" width="55.00" height="54.40" fill="#bf98a6"/>
<rect x="326.30" y="453.00" width="55.00" height="54.40" fill="url(#vg)"/>
<g filter="url(#b3)"><circle cx="365.5" cy="498.7" r="0.4" fill="#5a2a45" opacity="0.8"/><circle cx="381.2" cy="463.6" r="0.7" fill="#5a2a45" opacity="0.8"/><circle cx="331.3" cy="494.2" r="0.4" fill="#5a2a45" opacity="0.8"/><circle cx="365.2" cy="492.4" r="0.8" fill="#5a2a45" opacity="0.8"/><circle cx="350.6" cy="500.1" r="0.9" fill="#5a2a45" opacity="0.8"/><circle cx="332.7" cy="481.1" r="0.9" fill="#5a2a45" opacity="0.8"/><circle cx="367.0" cy="477.2" r="0.5" fill="#5a2a45" opacity="0.8"/><circle cx="378.7" cy="457.6" r="0.8" fill="#5a2a45" opacity="0.8"/><circle cx="372.7" cy="461.6" r="0.5" fill="#5a2a45" opacity="0.8"/><circle cx="343.1" cy="482.5" r="0.5" fill="#5a2a45" opacity="0.8"/><circle cx="375.5" cy="503.3" r="0.5" fill="#5a2a45" opacity="0.8"/><circle cx="375.5" cy="456.8" r="0.4" fill="#5a2a45" opacity="0.8"/><circle cx="362.9" cy="496.5" r="0.8" fill="#5a2a45" opacity="0.8"/><circle cx="380.9" cy="499.8" r="0.5" fill="#5a2a45" opacity="0.8"/><circle cx="367.2" cy="503.3" r="0.4" fill="#5a2a45" opacity="0.8"/><circle cx="353.5" cy="461.4" r="0.4" fill="#5a2a45" opacity="0.8"/><circle cx="352.7" cy="489.5" r="0.9" fill="#5a2a45" opacity="0.8"/><circle cx="333.5" cy="480.5" r="0.9" fill="#5a2a45" opacity="0.8"/><circle cx="368.4" cy="481.9" r="0.4" fill="#5a2a45" opacity="0.8"/><circle cx="361.0" cy="467.2" r="0.7" fill="#5a2a45" opacity="0.8"/><circle cx="362.0" cy="474.3" r="0.8" fill="#5a2a45" opacity="0.8"/><circle cx="348.5" cy="478.5" r="0.8" fill="#5a2a45" opacity="0.8"/><circle cx="340.1" cy="463.1" r="0.6" fill="#5a2a45" opacity="0.8"/><circle cx="350.2" cy="500.6" r="0.4" fill="#5a2a45" opacity="0.8"/><circle cx="337.3" cy="463.9" r="1.7" fill="#4a2038" opacity="0.85"/><circle cx="364.8" cy="493.8" r="1.0" fill="#4a2038" opacity="0.85"/></g>
<rect x="370.60" y="501.50" width="8.70" height="4.40" fill="#f6f0f2" stroke="#4a3040" stroke-width="0.3"/>
<line x1="371.80" y1="504.60" x2="378.10" y2="504.60" stroke="#222" stroke-width="0.5" stroke-linecap="butt"/>
</g>
<text x="276.00" y="374.30" font-family='"Liberation Serif", serif' font-size="10.7" text-anchor="middle" fill="#000">oe-NC+oe-NC</text>
<text x="351.40" y="374.30" font-family='"Liberation Serif", serif' font-size="10.7" text-anchor="middle" fill="#000">oe-MITF+oe-NC</text>
<text x="269.90" y="448.70" font-family='"Liberation Serif", serif' font-size="10.7" text-anchor="middle" fill="#000">oe-NC+oe-CPT1B</text>
<text x="363.60" y="448.70" font-family='"Liberation Serif", serif' font-size="10.7" text-anchor="middle" fill="#000">oe-MITF+oe-CPT1B</text>
<line x1="233.00" y1="509.10" x2="388.80" y2="509.10" stroke="#000" stroke-width="1.1" stroke-linecap="butt"/>
<text x="319.30" y="523.60" font-family='"Liberation Serif", serif' font-size="11.5" text-anchor="middle" fill="#000">Calu-3</text>
<text x="228.30" y="524.50" font-family='"Liberation Sans", sans-serif' font-size="11" font-weight="bold" text-anchor="start" fill="#000">g</text>
<line x1="433.60" y1="361.25" x2="433.60" y2="436.75" stroke="#000" stroke-width="1.0" stroke-linecap="butt"/>
<line x1="430.60" y1="361.75" x2="433.60" y2="361.75" stroke="#000" stroke-width="1.0" stroke-linecap="butt"/>
<text x="429.00" y="363.62" font-family='"Liberation Serif", serif' font-size="5.5" font-weight="bold" text-anchor="end" fill="#000" stroke="#000" stroke-width="0.2">150</text>
<line x1="430.60" y1="386.58" x2="433.60" y2="386.58" stroke="#000" stroke-width="1.0" stroke-linecap="butt"/>
<text x="429.00" y="388.45" font-family='"Liberation Serif", serif' font-size="5.5" font-weight="bold" text-anchor="end" fill="#000" stroke="#000" stroke-width="0.2">100</text>
<line x1="430.60" y1="411.42" x2="433.60" y2="411.42" stroke="#000" stroke-width="1.0" stroke-linecap="butt"/>
<text x="429.00" y="413.29" font-family='"Liberation Serif", serif' font-size="5.5" font-weight="bold" text-anchor="end" fill="#000" stroke="#000" stroke-width="0.2">50</text>
<line x1="430.60" y1="436.25" x2="433.60" y2="436.25" stroke="#000" stroke-width="1.0" stroke-linecap="butt"/>
<text x="429.00" y="438.12" font-family='"Liberation Serif", serif' font-size="5.5" font-weight="bold" text-anchor="end" fill="#000" stroke="#000" stroke-width="0.2">0</text>
<line x1="433.10" y1="436.25" x2="519.00" y2="436.25" stroke="#000" stroke-width="1.0" stroke-linecap="butt"/>
<rect x="438.80" y="404.50" width="13.70" height="31.75" fill="#0808f0"/>
<path d="M445.65 404.50V401.30M442.22 401.30H449.07" stroke="#0808f0" stroke-width="0.7" fill="none" opacity="0.75"/>
<line x1="445.65" y1="436.25" x2="445.65" y2="439.75" stroke="#000" stroke-width="1.0" stroke-linecap="butt"/>
<rect x="459.50" y="420.30" width="13.50" height="15.95" fill="#f80a0a"/>
<path d="M466.25 420.30V420.00M462.88 420.00H469.62" stroke="#f80a0a" stroke-width="0.7" fill="none" opacity="0.75"/>
<line x1="466.25" y1="436.25" x2="466.25" y2="439.75" stroke="#000" stroke-width="1.0" stroke-linecap="butt"/>
<rect x="479.50" y="384.30" width="13.50" height="51.95" fill="#0ef81e"/>
<path d="M486.25 384.30V379.30M482.88 379.30H489.62" stroke="#0ef81e" stroke-width="0.7" fill="none" opacity="0.75"/>
<line x1="486.25" y1="436.25" x2="486.25" y2="439.75" stroke="#000" stroke-width="1.0" stroke-linecap="butt"/>
<rect x="500.00" y="402.50" width="13.30" height="33.75" fill="#b158d6"/>
<path d="M506.65 402.50V399.50M503.32 399.50H509.97" stroke="#b158d6" stroke-width="0.7" fill="none" opacity="0.75"/>
<line x1="506.65" y1="436.25" x2="506.65" y2="439.75" stroke="#000" stroke-width="1.0" stroke-linecap="butt"/>
<line x1="451.30" y1="397.00" x2="465.00" y2="397.00" stroke="#000" stroke-width="1.3" stroke-linecap="butt"/>
<text x="457.00" y="395.38" font-family='"Liberation Sans", sans-serif' font-size="9" font-weight="bold" text-anchor="middle" fill="#000" stroke="#000" stroke-width="0.6" stroke-linejoin="round">*</text>
<line x1="448.50" y1="375.80" x2="508.50" y2="375.80" stroke="#000" stroke-width="1.3" stroke-linecap="butt"/>
<text x="467.60" y="373.48" font-family='"Liberation Sans", sans-serif' font-size="9" font-weight="bold" text-anchor="middle" fill="#000" stroke="#000" stroke-width="0.6" stroke-linejoin="round">*</text>
<text x="498.10" y="373.48" font-family='"Liberation Sans", sans-serif' font-size="9" font-weight="bold" text-anchor="middle" fill="#000" stroke="#000" stroke-width="0.6" stroke-linejoin="round">*</text>
<text x="472.60" y="352.30" font-family='"Liberation Serif", serif' font-size="5.8" font-weight="bold" text-anchor="middle" fill="#000" stroke="#000" stroke-width="0.15">Calu-3</text>
<text transform="translate(418.60,400.30) rotate(-90)" font-family='"Liberation Serif", serif' font-size="6.36" font-weight="bold" text-anchor="middle" fill="#000" stroke="#000" stroke-width="0.15">Diameter spheres(  μM)</text>
<text transform="translate(447.15,444.75) rotate(-45)" font-family='"Liberation Serif", serif' font-size="5.2" font-weight="bold" text-anchor="end" fill="#000" stroke="#000" stroke-width="0.2">oe-NC+oe-NC</text>
<text transform="translate(467.75,444.75) rotate(-45)" font-family='"Liberation Serif", serif' font-size="5.2" font-weight="bold" text-anchor="end" fill="#000" stroke="#000" stroke-width="0.2">oe-MITF+oe-NC</text>
<text transform="translate(487.75,444.75) rotate(-45)" font-family='"Liberation Serif", serif' font-size="5.2" font-weight="bold" text-anchor="end" fill="#000" stroke="#000" stroke-width="0.2">oe-NC+oe-CPT1B</text>
<text transform="translate(508.15,444.75) rotate(-45)" font-family='"Liberation Serif", serif' font-size="5.2" font-weight="bold" text-anchor="end" fill="#000" stroke="#000" stroke-width="0.2">oe-MITF+oe-CPT1B</text>
<line x1="433.90" y1="480.30" x2="433.90" y2="556.75" stroke="#000" stroke-width="1.0" stroke-linecap="butt"/>
<line x1="430.90" y1="480.80" x2="433.90" y2="480.80" stroke="#000" stroke-width="1.0" stroke-linecap="butt"/>
<text x="429.50" y="482.67" font-family='"Liberation Serif", serif' font-size="5.5" font-weight="bold" text-anchor="end" fill="#000" stroke="#000" stroke-width="0.2">30</text>
<line x1="430.90" y1="505.95" x2="433.90" y2="505.95" stroke="#000" stroke-width="1.0" stroke-linecap="butt"/>
<text x="429.50" y="507.82" font-family='"Liberation Serif", serif' font-size="5.5" font-weight="bold" text-anchor="end" fill="#000" stroke="#000" stroke-width="0.2">20</text>
<line x1="430.90" y1="531.10" x2="433.90" y2="531.10" stroke="#000" stroke-width="1.0" stroke-linecap="butt"/>
<text x="429.50" y="532.97" font-family='"Liberation Serif", serif' font-size="5.5" font-weight="bold" text-anchor="end" fill="#000" stroke="#000" stroke-width="0.2">10</text>
<line x1="430.90" y1="556.25" x2="433.90" y2="556.25" stroke="#000" stroke-width="1.0" stroke-linecap="butt"/>
<text x="429.50" y="558.12" font-family='"Liberation Serif", serif' font-size="5.5" font-weight="bold" text-anchor="end" fill="#000" stroke="#000" stroke-width="0.2">0</text>
<line x1="433.40" y1="556.25" x2="519.50" y2="556.25" stroke="#000" stroke-width="1.0" stroke-linecap="butt"/>
<rect x="440.60" y="536.10" width="13.20" height="20.15" fill="#0808f0"/>
<path d="M447.20 536.10V530.60M443.90 530.60H450.50" stroke="#0808f0" stroke-width="0.7" fill="none" opacity="0.75"/>
<line x1="447.20" y1="556.25" x2="447.20" y2="559.75" stroke="#000" stroke-width="1.0" stroke-linecap="butt"/>
<rect x="461.00" y="548.70" width="13.30" height="7.55" fill="#f80a0a"/>
<path d="M467.65 548.70V545.70M464.32 545.70H470.97" stroke="#f80a0a" stroke-width="0.7" fill="none" opacity="0.75"/>
<line x1="467.65" y1="556.25" x2="467.65" y2="559.75" stroke="#000" stroke-width="1.0" stroke-linecap="butt"/>
<rect x="480.70" y="506.00" width="14.00" height="50.25" fill="#0ef81e"/>
<path d="M487.70 506.00V495.40M484.20 495.40H491.20" stroke="#0ef81e" stroke-width="0.7" fill="none" opacity="0.75"/>
<line x1="487.70" y1="556.25" x2="487.70" y2="559.75" stroke="#000" stroke-width="1.0" stroke-linecap="butt"/>
<rect x="501.40" y="538.70" width="13.40" height="17.55" fill="#b158d6"/>
<path d="M508.10 538.70V535.90M504.75 535.90H511.45" stroke="#b158d6" stroke-width="0.7" fill="none" opacity="0.75"/>
<line x1="508.10" y1="556.25" x2="508.10" y2="559.75" stroke="#000" stroke-width="1.0" stroke-linecap="butt"/>
<line x1="447.80" y1="527.80" x2="467.50" y2="527.80" stroke="#000" stroke-width="1.3" stroke-linecap="butt"/>
<text x="457.70" y="526.68" font-family='"Liberation Sans", sans-serif' font-size="9" font-weight="bold" text-anchor="middle" fill="#000" stroke="#000" stroke-width="0.6" stroke-linejoin="round">*</text>
<line x1="447.30" y1="492.00" x2="507.40" y2="492.00" stroke="#000" stroke-width="1.3" stroke-linecap="butt"/>
<text x="467.60" y="490.38" font-family='"Liberation Sans", sans-serif' font-size="9" font-weight="bold" text-anchor="middle" fill="#000" stroke="#000" stroke-width="0.6" stroke-linejoin="round">*</text>
<text x="497.60" y="490.38" font-family='"Liberation Sans", sans-serif' font-size="9" font-weight="bold" text-anchor="middle" fill="#000" stroke="#000" stroke-width="0.6" stroke-linejoin="round">*</text>
<text transform="translate(422.00,518.50) rotate(-90)" font-family='"Liberation Sans", sans-serif' font-size="6.5" text-anchor="middle" fill="#000" stroke="#000" stroke-width="0.3">Number of spheres</text>
<text transform="translate(448.70,564.75) rotate(-45)" font-family='"Liberation Serif", serif' font-size="5.2" font-weight="bold" text-anchor="end" fill="#000" stroke="#000" stroke-width="0.2">oe-NC+oe-NC</text>
<text transform="translate(469.15,564.75) rotate(-45)" font-family='"Liberation Serif", serif' font-size="5.2" font-weight="bold" text-anchor="end" fill="#000" stroke="#000" stroke-width="0.2">oe-MITF+oe-NC</text>
<text transform="translate(489.20,564.75) rotate(-45)" font-family='"Liberation Serif", serif' font-size="5.2" font-weight="bold" text-anchor="end" fill="#000" stroke="#000" stroke-width="0.2">oe-NC+oe-CPT1B</text>
<text transform="translate(509.60,564.75) rotate(-45)" font-family='"Liberation Serif", serif' font-size="5.2" font-weight="bold" text-anchor="end" fill="#000" stroke="#000" stroke-width="0.2">oe-MITF+oe-CPT1B</text>
<text x="413.70" y="601.80" font-family='"Liberation Sans", sans-serif' font-size="11.3" font-weight="bold" text-anchor="start" fill="#000">h</text>
<rect x="48.50" y="590.00" width="104.00" height="18.80" fill="#f6f6f6" filter="url(#b4)"/>
<rect x="48.50" y="616.00" width="104.00" height="18.00" fill="#f6f6f6" filter="url(#b4)"/>
<rect x="48.50" y="642.50" width="104.00" height="17.50" fill="#f6f6f6" filter="url(#b4)"/>
<rect x="48.50" y="671.00" width="104.00" height="17.00" fill="#f6f6f6" filter="url(#b4)"/>
<g filter="url(#b2)">
<rect x="52.3" y="597.6" width="18.4" height="5.6" rx="2.8" fill="#050505" opacity="0.97"/>
<rect x="79.3" y="598.5" width="14.4" height="3.6" rx="1.8" fill="#050505" opacity="0.85"/>
<rect x="102.6" y="596.1" width="19.4" height="7.0" rx="3.5" fill="#050505" opacity="1.0"/>
<rect x="129.4" y="597.5" width="18.8" height="5.4" rx="2.7" fill="#050505" opacity="0.97"/>
<rect x="51.8" y="622.8" width="18.7" height="3.7" rx="1.9" fill="#050505" opacity="0.78"/>
<rect x="79.3" y="623.1" width="14.9" height="3.1" rx="1.6" fill="#050505" opacity="0.33"/>
<rect x="103.1" y="622.2" width="19.9" height="5.6" rx="2.8" fill="#050505" opacity="1.0"/>
<rect x="130.1" y="623.0" width="17.9" height="3.6" rx="1.8" fill="#050505" opacity="0.62"/>
<rect x="51.1" y="649.2" width="18.3" height="3.9" rx="1.9" fill="#050505" opacity="0.85"/>
<rect x="78.1" y="649.4" width="17.1" height="3.6" rx="1.8" fill="#050505" opacity="0.48"/>
<rect x="102.6" y="648.7" width="21.2" height="6.1" rx="3.0" fill="#050505" opacity="1.0"/>
<rect x="130.1" y="649.2" width="19.1" height="4.1" rx="2.0" fill="#050505" opacity="0.8"/>
<rect x="50.6" y="677.5" width="20.0" height="4.9" rx="2.5" fill="#050505" opacity="1.0"/>
<rect x="77.6" y="677.0" width="19.2" height="5.3" rx="2.6" fill="#050505" opacity="1.0"/>
<rect x="103.1" y="677.8" width="20.0" height="4.8" rx="2.4" fill="#050505" opacity="1.0"/>
<rect x="130.1" y="677.5" width="21.1" height="4.9" rx="2.5" fill="#050505" opacity="1.0"/>
</g>
<text x="27.50" y="599.80" font-family='"Liberation Serif", serif' font-size="10.7" text-anchor="middle" fill="#000" stroke="#000" stroke-width="0.15">Naong</text>
<text x="27.20" y="627.00" font-family='"Liberation Serif", serif' font-size="11.3" text-anchor="middle" fill="#000" stroke="#000" stroke-width="0.15">CD133</text>
<text x="27.70" y="654.30" font-family='"Liberation Serif", serif' font-size="11.4" text-anchor="middle" fill="#000" stroke="#000" stroke-width="0.15">Oct4</text>
<text x="27.80" y="683.50" font-family='"Liberation Serif", serif' font-size="11.5" text-anchor="middle" fill="#000" stroke="#000" stroke-width="0.15">β-actin</text>
<text transform="translate(57.50,583.00) rotate(-45)" font-family='"Liberation Serif", serif' font-size="8.55" text-anchor="start" fill="#000" stroke="#000" stroke-width="0.1">oe-NC+oe-NC</text>
<text transform="translate(86.50,582.00) rotate(-45)" font-family='"Liberation Serif", serif' font-size="8.55" text-anchor="start" fill="#000" stroke="#000" stroke-width="0.1">oe-MITF+oe-NC</text>
<text transform="translate(114.80,583.00) rotate(-45)" font-family='"Liberation Serif", serif' font-size="8.55" text-anchor="start" fill="#000" stroke="#000" stroke-width="0.1">oe-NC+oe-CPT1B</text>
<text transform="translate(142.20,583.00) rotate(-45)" font-family='"Liberation Serif", serif' font-size="8.55" text-anchor="start" fill="#000" stroke="#000" stroke-width="0.1">oe-MITF+oe-CPT1B</text>
<line x1="45.00" y1="696.80" x2="161.00" y2="696.80" stroke="#000" stroke-width="1.2" stroke-linecap="butt"/>
<text x="106.50" y="712.00" font-family='"Liberation Serif", serif' font-size="11" text-anchor="middle" fill="#000">Calu-3</text>
<text x="1.50" y="712.50" font-family='"Liberation Sans", sans-serif' font-size="11" font-weight="bold" text-anchor="start" fill="#000">i</text>
<line x1="239.20" y1="577.80" x2="239.20" y2="691.70" stroke="#000" stroke-width="1.4" stroke-linecap="butt"/>
<line x1="235.60" y1="578.50" x2="239.20" y2="578.50" stroke="#000" stroke-width="1.4" stroke-linecap="butt"/>
<text x="233.00" y="581.42" font-family='"Liberation Serif", serif' font-size="8.6" font-weight="bold" text-anchor="end" fill="#000" stroke="#000" stroke-width="0.15">2.5</text>
<line x1="235.60" y1="601.00" x2="239.20" y2="601.00" stroke="#000" stroke-width="1.4" stroke-linecap="butt"/>
<text x="233.00" y="603.92" font-family='"Liberation Serif", serif' font-size="8.6" font-weight="bold" text-anchor="end" fill="#000" stroke="#000" stroke-width="0.15">2.0</text>
<line x1="235.60" y1="623.50" x2="239.20" y2="623.50" stroke="#000" stroke-width="1.4" stroke-linecap="butt"/>
<text x="233.00" y="626.42" font-family='"Liberation Serif", serif' font-size="8.6" font-weight="bold" text-anchor="end" fill="#000" stroke="#000" stroke-width="0.15">1.5</text>
<line x1="235.60" y1="646.00" x2="239.20" y2="646.00" stroke="#000" stroke-width="1.4" stroke-linecap="butt"/>
<text x="233.00" y="648.92" font-family='"Liberation Serif", serif' font-size="8.6" font-weight="bold" text-anchor="end" fill="#000" stroke="#000" stroke-width="0.15">1.0</text>
<line x1="235.60" y1="668.50" x2="239.20" y2="668.50" stroke="#000" stroke-width="1.4" stroke-linecap="butt"/>
<text x="233.00" y="671.42" font-family='"Liberation Serif", serif' font-size="8.6" font-weight="bold" text-anchor="end" fill="#000" stroke="#000" stroke-width="0.15">0.5</text>
<line x1="235.60" y1="691.00" x2="239.20" y2="691.00" stroke="#000" stroke-width="1.4" stroke-linecap="butt"/>
<text x="233.00" y="693.92" font-family='"Liberation Serif", serif' font-size="8.6" font-weight="bold" text-anchor="end" fill="#000" stroke="#000" stroke-width="0.15">0.0</text>
<line x1="238.50" y1="691.00" x2="405.00" y2="691.00" stroke="#000" stroke-width="1.4" stroke-linecap="butt"/>
<rect x="240.50" y="646.00" width="8.10" height="45.00" fill="#0808f0"/>
<path d="M244.55 646.00V644.20M242.55 644.20H246.55" stroke="#0808f0" stroke-width="0.7" fill="none" opacity="0.75"/>
<rect x="252.75" y="665.80" width="8.10" height="25.20" fill="#f80a0a"/>
<path d="M256.80 665.80V664.45M254.80 664.45H258.80" stroke="#f80a0a" stroke-width="0.7" fill="none" opacity="0.75"/>
<rect x="265.00" y="632.05" width="8.10" height="58.95" fill="#0ef81e"/>
<path d="M269.05 632.05V626.20M267.05 626.20H271.05" stroke="#0ef81e" stroke-width="0.7" fill="none" opacity="0.75"/>
<rect x="277.25" y="643.75" width="8.10" height="47.25" fill="#b158d6"/>
<path d="M281.30 643.75V642.85M279.30 642.85H283.30" stroke="#b158d6" stroke-width="0.7" fill="none" opacity="0.75"/>
<line x1="262.60" y1="691.00" x2="262.60" y2="695.20" stroke="#000" stroke-width="1.3" stroke-linecap="butt"/>
<text x="262.60" y="704.80" font-family='"Liberation Serif", serif' font-size="8.2" text-anchor="middle" fill="#000">Naong</text>
<rect x="298.00" y="646.00" width="8.10" height="45.00" fill="#0808f0"/>
<path d="M302.05 646.00V644.20M300.05 644.20H304.05" stroke="#0808f0" stroke-width="0.7" fill="none" opacity="0.75"/>
<rect x="310.25" y="675.25" width="8.10" height="15.75" fill="#f80a0a"/>
<path d="M314.30 675.25V674.35M312.30 674.35H316.30" stroke="#f80a0a" stroke-width="0.7" fill="none" opacity="0.75"/>
<rect x="322.50" y="607.75" width="8.10" height="83.25" fill="#0ef81e"/>
<path d="M326.55 607.75V600.10M324.55 600.10H328.55" stroke="#0ef81e" stroke-width="0.7" fill="none" opacity="0.75"/>
<rect x="334.75" y="646.90" width="8.10" height="44.10" fill="#b158d6"/>
<path d="M338.80 646.90V646.00M336.80 646.00H340.80" stroke="#b158d6" stroke-width="0.7" fill="none" opacity="0.75"/>
<line x1="320.00" y1="691.00" x2="320.00" y2="695.20" stroke="#000" stroke-width="1.3" stroke-linecap="butt"/>
<text x="320.00" y="704.80" font-family='"Liberation Serif", serif' font-size="8.2" text-anchor="middle" fill="#000">CD133</text>
<rect x="355.20" y="646.00" width="8.10" height="45.00" fill="#0808f0"/>
<path d="M359.25 646.00V643.30M357.25 643.30H361.25" stroke="#0808f0" stroke-width="0.7" fill="none" opacity="0.75"/>
<rect x="367.45" y="667.15" width="8.10" height="23.85" fill="#f80a0a"/>
<path d="M371.50 667.15V665.80M369.50 665.80H373.50" stroke="#f80a0a" stroke-width="0.7" fill="none" opacity="0.75"/>
<rect x="379.70" y="617.20" width="8.10" height="73.80" fill="#0ef81e"/>
<path d="M383.75 617.20V612.70M381.75 612.70H385.75" stroke="#0ef81e" stroke-width="0.7" fill="none" opacity="0.75"/>
<rect x="391.95" y="646.00" width="8.10" height="45.00" fill="#b158d6"/>
<path d="M396.00 646.00V645.55M394.00 645.55H398.00" stroke="#b158d6" stroke-width="0.7" fill="none" opacity="0.75"/>
<line x1="377.50" y1="691.00" x2="377.50" y2="695.20" stroke="#000" stroke-width="1.3" stroke-linecap="butt"/>
<text x="377.50" y="704.80" font-family='"Liberation Serif", serif' font-size="8.2" text-anchor="middle" fill="#000">Oct4</text>
<line x1="243.30" y1="634.50" x2="258.80" y2="634.50" stroke="#000" stroke-width="1.8" stroke-linecap="butt"/>
<text x="251.20" y="632.69" font-family='"Liberation Sans", sans-serif' font-size="12.8" font-weight="bold" text-anchor="middle" fill="#000" stroke="#000" stroke-width="0.25" stroke-linejoin="round">*</text>
<line x1="246.00" y1="621.70" x2="269.20" y2="621.70" stroke="#000" stroke-width="1.8" stroke-linecap="butt"/>
<text x="257.00" y="619.49" font-family='"Liberation Sans", sans-serif' font-size="12.8" font-weight="bold" text-anchor="middle" fill="#000" stroke="#000" stroke-width="0.25" stroke-linejoin="round">*</text>
<line x1="273.70" y1="622.80" x2="286.50" y2="622.80" stroke="#000" stroke-width="1.8" stroke-linecap="butt"/>
<text x="279.60" y="620.49" font-family='"Liberation Sans", sans-serif' font-size="12.8" font-weight="bold" text-anchor="middle" fill="#000" stroke="#000" stroke-width="0.25" stroke-linejoin="round">*</text>
<line x1="302.80" y1="633.80" x2="318.70" y2="633.80" stroke="#000" stroke-width="1.8" stroke-linecap="butt"/>
<text x="310.80" y="631.69" font-family='"Liberation Sans", sans-serif' font-size="12.8" font-weight="bold" text-anchor="middle" fill="#000" stroke="#000" stroke-width="0.25" stroke-linejoin="round">*</text>
<line x1="303.80" y1="593.00" x2="327.00" y2="593.00" stroke="#000" stroke-width="1.8" stroke-linecap="butt"/>
<text x="315.30" y="590.49" font-family='"Liberation Sans", sans-serif' font-size="12.8" font-weight="bold" text-anchor="middle" fill="#000" stroke="#000" stroke-width="0.25" stroke-linejoin="round">*</text>
<line x1="329.80" y1="593.50" x2="339.10" y2="593.50" stroke="#000" stroke-width="1.8" stroke-linecap="butt"/>
<text x="334.30" y="590.49" font-family='"Liberation Sans", sans-serif' font-size="12.8" font-weight="bold" text-anchor="middle" fill="#000" stroke="#000" stroke-width="0.25" stroke-linejoin="round">*</text>
<line x1="357.50" y1="633.00" x2="371.30" y2="633.00" stroke="#000" stroke-width="1.8" stroke-linecap="butt"/>
<text x="364.50" y="630.99" font-family='"Liberation Sans", sans-serif' font-size="12.8" font-weight="bold" text-anchor="middle" fill="#000" stroke="#000" stroke-width="0.25" stroke-linejoin="round">*</text>
<line x1="357.50" y1="608.20" x2="383.80" y2="608.20" stroke="#000" stroke-width="1.8" stroke-linecap="butt"/>
<text x="370.80" y="605.49" font-family='"Liberation Sans", sans-serif' font-size="12.8" font-weight="bold" text-anchor="middle" fill="#000" stroke="#000" stroke-width="0.25" stroke-linejoin="round">*</text>
<line x1="388.00" y1="608.20" x2="400.00" y2="608.20" stroke="#000" stroke-width="1.8" stroke-linecap="butt"/>
<text x="393.80" y="605.49" font-family='"Liberation Sans", sans-serif' font-size="12.8" font-weight="bold" text-anchor="middle" fill="#000" stroke="#000" stroke-width="0.25" stroke-linejoin="round">*</text>
<rect x="241.50" y="543.00" width="12.70" height="5.20" fill="#0808f0"/>
<text x="259.50" y="548.60" font-family='"Liberation Serif", serif' font-size="9.4" text-anchor="start" fill="#000">oe-NC+oe-NC</text>
<rect x="241.50" y="552.40" width="12.70" height="5.20" fill="#f80a0a"/>
<text x="259.50" y="558.00" font-family='"Liberation Serif", serif' font-size="9.4" text-anchor="start" fill="#000">oe-MITF+oe-NC</text>
<rect x="241.50" y="562.00" width="12.70" height="5.20" fill="#0ef81e"/>
<text x="259.50" y="567.60" font-family='"Liberation Serif", serif' font-size="9.4" text-anchor="start" fill="#000">oe-NC+oe-CPT1B</text>
<rect x="241.50" y="570.70" width="12.70" height="5.20" fill="#b158d6"/>
<text x="259.50" y="576.30" font-family='"Liberation Serif", serif' font-size="9.4" text-anchor="start" fill="#000">oe-MITF+oe-CPT1B</text>
<text x="303.40" y="538.80" font-family='"Liberation Serif", serif' font-size="8.7" font-weight="bold" text-anchor="middle" fill="#000" stroke="#000" stroke-width="0.15">Calu-3</text>
<text transform="translate(214.60,634.50) rotate(-90)" font-family='"Liberation Serif", serif' font-size="8.45" font-weight="bold" text-anchor="middle" fill="#000" stroke="#000" stroke-width="0.2">Relative expression of proteins</text>
</svg>
</body></html>
